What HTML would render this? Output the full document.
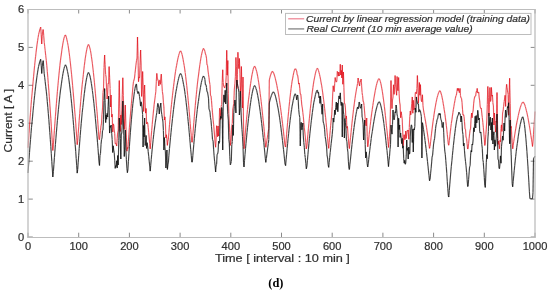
<!DOCTYPE html>
<html><head><meta charset="utf-8"><title>Current plot</title>
<style>html,body{margin:0;padding:0;background:#fff;width:550px;height:293px;overflow:hidden}svg{display:block}</style>
</head><body>
<svg width="550" height="293" viewBox="0 0 550 293">
<rect x="0" y="0" width="550" height="293" fill="#fff"/>
<path d="M28.0,237V232.7M28.0,9.5V13.5M78.7,237V232.7M78.7,9.5V13.5M129.4,237V232.7M129.4,9.5V13.5M180.1,237V232.7M180.1,9.5V13.5M230.8,237V232.7M230.8,9.5V13.5M281.5,237V232.7M281.5,9.5V13.5M332.2,237V232.7M332.2,9.5V13.5M382.9,237V232.7M382.9,9.5V13.5M433.6,237V232.7M433.6,9.5V13.5M484.3,237V232.7M484.3,9.5V13.5M535.0,237V232.7M535.0,9.5V13.5M28,237.0H32.8M535,237.0H530.7M28,199.1H32.8M535,199.1H530.7M28,161.2H32.8M535,161.2H530.7M28,123.2H32.8M535,123.2H530.7M28,85.3H32.8M535,85.3H530.7M28,47.4H32.8M535,47.4H530.7M28,9.5H32.8M535,9.5H530.7" stroke="#8a8a8a" stroke-width="1" fill="none"/>
<defs><filter id="bl" filterUnits="userSpaceOnUse" x="0" y="0" width="550" height="293"><feGaussianBlur stdDeviation="0"/></filter></defs>
<g filter="url(#bl)">
<g fill="none" stroke="#e00a14" stroke-width="1.15" stroke-opacity="0.68" stroke-linecap="butt">
<path d="M28.0 147.8L28.5 140.3"/>
<path d="M28.5 140.3L29.0 133.1"/>
<path d="M29.0 133.1L29.5 126.0"/>
<path d="M29.5 126.0L30.0 119.0"/>
<path d="M30.0 119.0L30.5 112.3"/>
<path d="M30.5 112.3L31.0 105.8"/>
<path d="M31.0 105.8L31.5 99.5"/>
<path d="M31.5 99.5L32.1 93.3"/>
<path d="M32.1 93.3L32.6 87.4"/>
<path d="M32.6 87.4L33.1 81.7"/>
<path d="M33.1 81.7L33.6 76.2"/>
<path d="M33.6 76.2L34.1 70.9"/>
<path d="M34.1 70.9L34.6 65.8"/>
<path d="M34.6 65.8L35.1 61.0"/>
<path d="M35.1 61.0L35.6 56.4"/>
<path d="M35.6 56.4L36.1 52.1"/>
<path d="M36.1 52.1L36.6 48.0"/>
<path d="M36.6 48.0L37.1 44.2"/>
<path d="M37.1 44.2L37.6 40.7"/>
<path d="M37.6 40.7L38.1 37.5"/>
<path d="M38.1 37.5L38.6 34.7"/>
<path d="M38.6 34.7L39.2 32.1"/>
<path d="M39.2 32.1L39.7 30.0"/>
<path d="M39.7 30.0L40.2 28.3"/>
<path d="M40.2 28.3L40.7 27.1"/>
<path d="M40.7 27.1L41.2 34.4"/>
<path d="M41.2 34.4L41.7 44.0"/>
<path d="M41.7 44.0L42.2 36.1"/>
<path d="M42.2 36.1L42.7 31.3"/>
<path d="M42.7 31.3L43.2 29.5"/>
<path d="M43.2 29.5L43.7 35.2"/>
<path d="M43.7 35.2L44.2 42.2"/>
<path d="M44.2 42.2L44.7 46.3"/>
<path d="M44.7 46.3L45.2 50.7"/>
<path d="M45.2 50.7L45.7 55.4"/>
<path d="M45.7 55.4L46.3 60.5"/>
<path d="M46.3 60.5L46.8 65.8"/>
<path d="M46.8 65.8L47.3 71.5"/>
<path d="M47.3 71.5L47.8 77.4"/>
<path d="M47.8 77.4L48.3 83.6"/>
<path d="M48.3 83.6L48.8 90.1"/>
<path d="M48.8 90.1L49.3 96.8"/>
<path d="M49.3 96.8L49.8 103.8"/>
<path d="M49.8 103.8L50.3 111.0"/>
<path d="M50.3 111.0L50.8 118.4"/>
<path d="M50.8 118.4L51.3 126.1"/>
<path d="M51.3 126.1L51.8 134.0"/>
<path d="M51.8 134.0L52.3 142.2"/>
<path d="M52.3 142.2L52.8 150.5"/>
<path d="M52.8 150.5L53.4 144.8"/>
<path d="M53.4 144.8L53.9 137.4"/>
<path d="M53.9 137.4L54.4 130.3"/>
<path d="M54.4 130.3L54.9 123.3"/>
<path d="M54.9 123.3L55.4 116.5"/>
<path d="M55.4 116.5L55.9 109.9"/>
<path d="M55.9 109.9L56.4 103.6"/>
<path d="M56.4 103.6L56.9 97.4"/>
<path d="M56.9 97.4L57.4 91.5"/>
<path d="M57.4 91.5L57.9 85.8"/>
<path d="M57.9 85.8L58.4 80.3"/>
<path d="M58.4 80.3L58.9 75.1"/>
<path d="M58.9 75.1L59.4 70.1"/>
<path d="M59.4 70.1L59.9 65.4"/>
<path d="M59.9 65.4L60.4 60.9"/>
<path d="M60.4 60.9L61.0 56.7"/>
<path d="M61.0 56.7L61.5 52.8"/>
<path d="M61.5 52.8L62.0 49.1"/>
<path d="M62.0 49.1L62.5 45.8"/>
<path d="M62.5 45.8L63.0 42.9"/>
<path d="M63.0 42.9L63.5 40.3"/>
<path d="M63.5 40.3L64.0 38.1"/>
<path d="M64.0 38.1L64.5 36.3"/>
<path d="M64.5 36.3L65.0 35.2"/>
<path d="M65.0 35.2L65.5 35.1"/>
<path d="M65.5 35.1L66.0 36.2"/>
<path d="M66.0 36.2L66.5 37.8"/>
<path d="M66.5 37.8L67.0 40.0"/>
<path d="M67.0 40.0L67.5 42.5"/>
<path d="M67.5 42.5L68.1 45.5"/>
<path d="M68.1 45.5L68.6 48.8"/>
<path d="M68.6 48.8L69.1 52.4"/>
<path d="M69.1 52.4L69.6 56.3"/>
<path d="M69.6 56.3L70.1 60.5"/>
<path d="M70.1 60.5L70.6 65.0"/>
<path d="M70.6 65.0L71.1 69.7"/>
<path d="M71.1 69.7L71.6 74.7"/>
<path d="M71.6 74.7L72.1 80.0"/>
<path d="M72.1 80.0L72.6 85.5"/>
<path d="M72.6 85.5L73.1 91.2"/>
<path d="M73.1 91.2L73.6 97.1"/>
<path d="M73.6 97.1L74.1 103.3"/>
<path d="M74.1 103.3L74.6 109.7"/>
<path d="M74.6 109.7L75.2 116.3"/>
<path d="M75.2 116.3L75.7 123.1"/>
<path d="M75.7 123.1L76.2 130.1"/>
<path d="M76.2 130.1L76.7 137.3"/>
<path d="M76.7 137.3L77.2 144.7"/>
<path d="M77.2 144.7L77.7 140.9"/>
<path d="M77.7 140.9L78.2 133.8"/>
<path d="M78.2 133.8L78.7 126.9"/>
<path d="M78.7 126.9L79.2 120.1"/>
<path d="M79.2 120.1L79.7 113.6"/>
<path d="M79.7 113.6L80.2 107.4"/>
<path d="M80.2 107.4L80.7 101.3"/>
<path d="M80.7 101.3L81.2 95.5"/>
<path d="M81.2 95.5L81.7 89.9"/>
<path d="M81.7 89.9L82.2 84.6"/>
<path d="M82.2 84.6L82.8 79.5"/>
<path d="M82.8 79.5L83.3 74.7"/>
<path d="M83.3 74.7L83.8 70.1"/>
<path d="M83.8 70.1L84.3 65.8"/>
<path d="M84.3 65.8L84.8 61.9"/>
<path d="M84.8 61.9L85.3 58.2"/>
<path d="M85.3 58.2L85.8 54.9"/>
<path d="M85.8 54.9L86.3 51.9"/>
<path d="M86.3 51.9L86.8 49.3"/>
<path d="M86.8 49.3L87.3 47.2"/>
<path d="M87.3 47.2L87.8 45.5"/>
<path d="M87.8 45.5L88.3 44.5"/>
<path d="M88.3 44.5L88.8 44.8"/>
<path d="M88.8 44.8L89.3 46.1"/>
<path d="M89.3 46.1L89.9 48.0"/>
<path d="M89.9 48.0L90.4 50.4"/>
<path d="M90.4 50.4L90.9 53.2"/>
<path d="M90.9 53.2L91.4 56.4"/>
<path d="M91.4 56.4L91.9 59.9"/>
<path d="M91.9 59.9L92.4 63.8"/>
<path d="M92.4 63.8L92.9 68.0"/>
<path d="M92.9 68.0L93.4 72.5"/>
<path d="M93.4 72.5L93.9 77.3"/>
<path d="M93.9 77.3L94.4 82.3"/>
<path d="M94.4 82.3L94.9 87.7"/>
<path d="M94.9 87.7L95.4 93.3"/>
<path d="M95.4 93.3L95.9 99.1"/>
<path d="M95.9 99.1L96.4 105.2"/>
<path d="M96.4 105.2L97.0 111.5"/>
<path d="M97.0 111.5L97.5 118.1"/>
<path d="M97.5 118.1L98.0 124.9"/>
<path d="M98.0 124.9L98.5 131.9"/>
<path d="M98.5 131.9L99.0 139.1"/>
<path d="M99.0 139.1L99.5 139.7"/>
<path d="M99.5 139.7L100.0 134.8"/>
<path d="M100.0 134.8L100.5 130.4"/>
<path d="M100.5 130.4L101.0 125.9"/>
<path d="M101.0 125.9L101.5 123.7"/>
<path d="M101.5 123.7L102.0 114.3"/>
<path d="M102.0 114.3L102.5 108.9"/>
<path d="M102.5 108.9L103.0 92.2"/>
<path d="M103.0 92.2L103.5 89.2"/>
<path d="M103.5 89.2L104.0 67.9"/>
<path d="M104.0 67.9L104.6 55.0"/>
<path d="M104.6 55.0L105.1 64.4"/>
<path d="M105.1 64.4L105.6 74.3"/>
<path d="M105.6 74.3L106.1 77.0"/>
<path d="M106.1 77.0L106.6 88.9"/>
<path d="M106.6 88.9L107.1 99.0"/>
<path d="M107.1 99.0L107.6 94.7"/>
<path d="M107.6 94.7L108.1 83.3"/>
<path d="M108.1 83.3L108.6 83.6"/>
<path d="M108.6 83.6L109.1 66.6"/>
<path d="M109.1 66.6L109.6 77.3"/>
<path d="M109.6 77.3L110.1 88.4"/>
<path d="M110.1 88.4L110.6 107.1"/>
<path d="M110.6 107.1L111.1 95.0"/>
<path d="M111.1 95.0L111.7 117.1"/>
<path d="M111.7 117.1L112.2 114.2"/>
<path d="M112.2 114.2L112.7 131.9"/>
<path d="M112.7 131.9L113.2 123.9"/>
<path d="M113.2 123.9L113.7 124.8"/>
<path d="M113.7 124.8L114.2 130.0"/>
<path d="M114.2 130.0L114.7 133.6"/>
<path d="M114.7 133.6L115.2 143.6"/>
<path d="M115.2 143.6L115.7 143.3"/>
<path d="M115.7 143.3L116.2 144.1"/>
<path d="M116.2 144.1L116.7 146.0"/>
<path d="M116.7 146.0L117.2 138.5"/>
<path d="M117.2 138.5L117.7 132.2"/>
<path d="M117.7 132.2L118.2 131.3"/>
<path d="M118.2 131.3L118.8 100.9"/>
<path d="M118.8 100.9L119.3 80.5"/>
<path d="M119.3 80.5L119.8 108.7"/>
<path d="M119.8 108.7L120.3 131.5"/>
<path d="M120.3 131.5L120.8 115.0"/>
<path d="M120.8 115.0L121.3 124.5"/>
<path d="M121.3 124.5L121.8 110.0"/>
<path d="M121.8 110.0L122.3 94.5"/>
<path d="M122.3 94.5L122.8 77.7"/>
<path d="M122.8 77.7L123.3 95.5"/>
<path d="M123.3 95.5L123.8 115.0"/>
<path d="M123.8 115.0L124.3 129.4"/>
<path d="M124.3 129.4L124.8 118.8"/>
<path d="M124.8 118.8L125.3 105.0"/>
<path d="M125.3 105.0L125.9 126.3"/>
<path d="M125.9 126.3L126.4 137.6"/>
<path d="M126.4 137.6L126.9 151.2"/>
<path d="M126.9 151.2L127.4 147.6"/>
<path d="M127.4 147.6L127.9 148.4"/>
<path d="M127.9 148.4L128.4 141.2"/>
<path d="M128.4 141.2L128.9 134.3"/>
<path d="M128.9 134.3L129.4 127.6"/>
<path d="M129.4 127.6L129.9 121.2"/>
<path d="M129.9 121.2L130.4 115.0"/>
<path d="M130.4 115.0L130.9 109.0"/>
<path d="M130.9 109.0L131.4 103.4"/>
<path d="M131.4 103.4L131.9 98.0"/>
<path d="M131.9 98.0L132.4 92.9"/>
<path d="M132.4 92.9L132.9 86.8"/>
<path d="M132.9 86.8L133.5 81.5"/>
<path d="M133.5 81.5L134.0 80.0"/>
<path d="M134.0 80.0L134.5 78.1"/>
<path d="M134.5 78.1L135.0 73.4"/>
<path d="M135.0 73.4L135.5 69.1"/>
<path d="M135.5 69.1L136.0 64.3"/>
<path d="M136.0 64.3L136.5 60.5"/>
<path d="M136.5 60.5L137.0 58.4"/>
<path d="M137.0 58.4L137.5 37.0"/>
<path d="M137.5 37.0L138.0 55.8"/>
<path d="M138.0 55.8L138.5 81.7"/>
<path d="M138.5 81.7L139.0 77.3"/>
<path d="M139.0 77.3L139.5 77.8"/>
<path d="M139.5 77.8L140.0 65.2"/>
<path d="M140.0 65.2L140.6 50.0"/>
<path d="M140.6 50.0L141.1 63.9"/>
<path d="M141.1 63.9L141.6 96.4"/>
<path d="M141.6 96.4L142.1 89.7"/>
<path d="M142.1 89.7L142.6 71.4"/>
<path d="M142.6 71.4L143.1 84.1"/>
<path d="M143.1 84.1L143.6 111.6"/>
<path d="M143.6 111.6L144.1 94.4"/>
<path d="M144.1 94.4L144.6 85.0"/>
<path d="M144.6 85.0L145.1 103.0"/>
<path d="M145.1 103.0L145.6 113.1"/>
<path d="M145.6 113.1L146.1 108.4"/>
<path d="M146.1 108.4L146.6 123.9"/>
<path d="M146.6 123.9L147.1 122.3"/>
<path d="M147.1 122.3L147.7 122.8"/>
<path d="M147.7 122.8L148.2 127.7"/>
<path d="M148.2 127.7L148.7 132.8"/>
<path d="M148.7 132.8L149.2 138.0"/>
<path d="M149.2 138.0L149.7 143.4"/>
<path d="M149.7 143.4L150.2 148.9"/>
<path d="M150.2 148.9L150.7 142.7"/>
<path d="M150.7 142.7L151.2 136.4"/>
<path d="M151.2 136.4L151.7 130.4"/>
<path d="M151.7 130.4L152.2 124.7"/>
<path d="M152.2 124.7L152.7 119.1"/>
<path d="M152.7 119.1L153.2 113.9"/>
<path d="M153.2 113.9L153.7 108.9"/>
<path d="M153.7 108.9L154.2 104.1"/>
<path d="M154.2 104.1L154.8 99.7"/>
<path d="M154.8 99.7L155.3 95.5"/>
<path d="M155.3 95.5L155.8 91.6"/>
<path d="M155.8 91.6L156.3 81.7"/>
<path d="M156.3 81.7L156.8 73.4"/>
<path d="M156.8 73.4L157.3 78.3"/>
<path d="M157.3 78.3L157.8 79.8"/>
<path d="M157.8 79.8L158.3 80.8"/>
<path d="M158.3 80.8L158.8 86.0"/>
<path d="M158.8 86.0L159.3 80.4"/>
<path d="M159.3 80.4L159.8 80.4"/>
<path d="M159.8 80.4L160.3 84.4"/>
<path d="M160.3 84.4L160.8 78.1"/>
<path d="M160.8 78.1L161.3 74.1"/>
<path d="M161.3 74.1L161.8 83.2"/>
<path d="M161.8 83.2L162.4 91.8"/>
<path d="M162.4 91.8L162.9 95.1"/>
<path d="M162.9 95.1L163.4 102.2"/>
<path d="M163.4 102.2L163.9 107.1"/>
<path d="M163.9 107.1L164.4 120.0"/>
<path d="M164.4 120.0L164.9 116.8"/>
<path d="M164.9 116.8L165.4 122.6"/>
<path d="M165.4 122.6L165.9 138.0"/>
<path d="M165.9 138.0L166.4 134.7"/>
<path d="M166.4 134.7L166.9 139.1"/>
<path d="M166.9 139.1L167.4 145.4"/>
<path d="M167.4 145.4L167.9 140.8"/>
<path d="M167.9 140.8L168.4 139.0"/>
<path d="M168.4 139.0L168.9 132.6"/>
<path d="M168.9 132.6L169.5 124.7"/>
<path d="M169.5 124.7L170.0 119.4"/>
<path d="M170.0 119.4L170.5 114.3"/>
<path d="M170.5 114.3L171.0 109.3"/>
<path d="M171.0 109.3L171.5 104.4"/>
<path d="M171.5 104.4L172.0 99.7"/>
<path d="M172.0 99.7L172.5 95.2"/>
<path d="M172.5 95.2L173.0 90.8"/>
<path d="M173.0 90.8L173.5 86.6"/>
<path d="M173.5 86.6L174.0 82.6"/>
<path d="M174.0 82.6L174.5 78.8"/>
<path d="M174.5 78.8L175.0 75.2"/>
<path d="M175.0 75.2L175.5 71.7"/>
<path d="M175.5 71.7L176.0 68.5"/>
<path d="M176.0 68.5L176.6 65.4"/>
<path d="M176.6 65.4L177.1 62.6"/>
<path d="M177.1 62.6L177.6 60.0"/>
<path d="M177.6 60.0L178.1 57.7"/>
<path d="M178.1 57.7L178.6 55.6"/>
<path d="M178.6 55.6L179.1 53.8"/>
<path d="M179.1 53.8L179.6 52.4"/>
<path d="M179.6 52.4L180.1 51.3"/>
<path d="M180.1 51.3L180.6 50.8"/>
<path d="M180.6 50.8L181.1 51.5"/>
<path d="M181.1 51.5L181.6 52.8"/>
<path d="M181.6 52.8L182.1 54.6"/>
<path d="M182.1 54.6L182.6 56.8"/>
<path d="M182.6 56.8L183.1 59.4"/>
<path d="M183.1 59.4L183.6 62.3"/>
<path d="M183.6 62.3L184.2 65.5"/>
<path d="M184.2 65.5L184.7 69.0"/>
<path d="M184.7 69.0L185.2 72.7"/>
<path d="M185.2 72.7L185.7 76.8"/>
<path d="M185.7 76.8L186.2 81.0"/>
<path d="M186.2 81.0L186.7 85.5"/>
<path d="M186.7 85.5L187.2 90.3"/>
<path d="M187.2 90.3L187.7 95.2"/>
<path d="M187.7 95.2L188.2 100.4"/>
<path d="M188.2 100.4L188.7 105.8"/>
<path d="M188.7 105.8L189.2 111.4"/>
<path d="M189.2 111.4L189.7 117.2"/>
<path d="M189.7 117.2L190.2 123.2"/>
<path d="M190.2 123.2L190.7 129.4"/>
<path d="M190.7 129.4L191.3 135.8"/>
<path d="M191.3 135.8L191.8 142.3"/>
<path d="M191.8 142.3L192.3 142.0"/>
<path d="M192.3 142.0L192.8 135.4"/>
<path d="M192.8 135.4L193.3 129.0"/>
<path d="M193.3 129.0L193.8 122.8"/>
<path d="M193.8 122.8L194.3 116.8"/>
<path d="M194.3 116.8L194.8 111.0"/>
<path d="M194.8 111.0L195.3 105.4"/>
<path d="M195.3 105.4L195.8 99.9"/>
<path d="M195.8 99.9L196.3 94.7"/>
<path d="M196.3 94.7L196.8 89.7"/>
<path d="M196.8 89.7L197.3 84.9"/>
<path d="M197.3 84.9L197.8 80.3"/>
<path d="M197.8 80.3L198.4 76.0"/>
<path d="M198.4 76.0L198.9 71.9"/>
<path d="M198.9 71.9L199.4 68.1"/>
<path d="M199.4 68.1L199.9 64.5"/>
<path d="M199.9 64.5L200.4 61.2"/>
<path d="M200.4 61.2L200.9 58.1"/>
<path d="M200.9 58.1L201.4 55.4"/>
<path d="M201.4 55.4L201.9 53.1"/>
<path d="M201.9 53.1L202.4 51.1"/>
<path d="M202.4 51.1L202.9 49.5"/>
<path d="M202.9 49.5L203.4 48.4"/>
<path d="M203.4 48.4L203.9 49.2"/>
<path d="M203.9 49.2L204.4 49.6"/>
<path d="M204.4 49.6L204.9 51.3"/>
<path d="M204.9 51.3L205.4 53.8"/>
<path d="M205.4 53.8L206.0 55.4"/>
<path d="M206.0 55.4L206.5 58.1"/>
<path d="M206.5 58.1L207.0 65.0"/>
<path d="M207.0 65.0L207.5 65.4"/>
<path d="M207.5 65.4L208.0 70.7"/>
<path d="M208.0 70.7L208.5 74.4"/>
<path d="M208.5 74.4L209.0 77.6"/>
<path d="M209.0 77.6L209.5 82.2"/>
<path d="M209.5 82.2L210.0 84.7"/>
<path d="M210.0 84.7L210.5 95.5"/>
<path d="M210.5 95.5L211.0 95.7"/>
<path d="M211.0 95.7L211.5 100.6"/>
<path d="M211.5 100.6L212.0 107.4"/>
<path d="M212.0 107.4L212.5 112.9"/>
<path d="M212.5 112.9L213.1 119.7"/>
<path d="M213.1 119.7L213.6 124.2"/>
<path d="M213.6 124.2L214.1 129.9"/>
<path d="M214.1 129.9L214.6 136.0"/>
<path d="M214.6 136.0L215.1 143.2"/>
<path d="M215.1 143.2L215.6 147.2"/>
<path d="M215.6 147.2L216.1 139.3"/>
<path d="M216.1 139.3L216.6 125.7"/>
<path d="M216.6 125.7L217.1 128.7"/>
<path d="M217.1 128.7L217.6 136.7"/>
<path d="M217.6 136.7L218.1 126.0"/>
<path d="M218.1 126.0L218.6 136.0"/>
<path d="M218.6 136.0L219.1 128.7"/>
<path d="M219.1 128.7L219.6 108.2"/>
<path d="M219.6 108.2L220.2 110.0"/>
<path d="M220.2 110.0L220.7 119.6"/>
<path d="M220.7 119.6L221.2 106.4"/>
<path d="M221.2 106.4L221.7 104.3"/>
<path d="M221.7 104.3L222.2 82.5"/>
<path d="M222.2 82.5L222.7 69.7"/>
<path d="M222.7 69.7L223.2 82.8"/>
<path d="M223.2 82.8L223.7 86.4"/>
<path d="M223.7 86.4L224.2 86.9"/>
<path d="M224.2 86.9L224.7 87.9"/>
<path d="M224.7 87.9L225.2 85.7"/>
<path d="M225.2 85.7L225.7 85.8"/>
<path d="M225.7 85.8L226.2 75.6"/>
<path d="M226.2 75.6L226.7 50.2"/>
<path d="M226.7 50.2L227.3 75.2"/>
<path d="M227.3 75.2L227.8 60.5"/>
<path d="M227.8 60.5L228.3 93.7"/>
<path d="M228.3 93.7L228.8 113.6"/>
<path d="M228.8 113.6L229.3 123.1"/>
<path d="M229.3 123.1L229.8 132.5"/>
<path d="M229.8 132.5L230.3 145.4"/>
<path d="M230.3 145.4L230.8 142.5"/>
<path d="M230.8 142.5L231.3 134.8"/>
<path d="M231.3 134.8L231.8 125.4"/>
<path d="M231.8 125.4L232.3 123.6"/>
<path d="M232.3 123.6L232.8 109.1"/>
<path d="M232.8 109.1L233.3 106.4"/>
<path d="M233.3 106.4L233.8 103.3"/>
<path d="M233.8 103.3L234.3 90.0"/>
<path d="M234.3 90.0L234.9 83.5"/>
<path d="M234.9 83.5L235.4 76.5"/>
<path d="M235.4 76.5L235.9 57.4"/>
<path d="M235.9 57.4L236.4 66.8"/>
<path d="M236.4 66.8L236.9 88.5"/>
<path d="M236.9 88.5L237.4 74.2"/>
<path d="M237.4 74.2L237.9 52.3"/>
<path d="M237.9 52.3L238.4 63.5"/>
<path d="M238.4 63.5L238.9 68.6"/>
<path d="M238.9 68.6L239.4 58.4"/>
<path d="M239.4 58.4L239.9 73.6"/>
<path d="M239.9 73.6L240.4 91.7"/>
<path d="M240.4 91.7L240.9 85.8"/>
<path d="M240.9 85.8L241.4 66.6"/>
<path d="M241.4 66.6L242.0 96.0"/>
<path d="M242.0 96.0L242.5 108.0"/>
<path d="M242.5 108.0L243.0 76.9"/>
<path d="M243.0 76.9L243.5 122.9"/>
<path d="M243.5 122.9L244.0 148.7"/>
<path d="M244.0 148.7L244.5 143.0"/>
<path d="M244.5 143.0L245.0 136.9"/>
<path d="M245.0 136.9L245.5 131.0"/>
<path d="M245.5 131.0L246.0 125.3"/>
<path d="M246.0 125.3L246.5 119.8"/>
<path d="M246.5 119.8L247.0 114.5"/>
<path d="M247.0 114.5L247.5 109.5"/>
<path d="M247.5 109.5L248.0 104.6"/>
<path d="M248.0 104.6L248.5 99.9"/>
<path d="M248.5 99.9L249.1 95.5"/>
<path d="M249.1 95.5L249.6 91.3"/>
<path d="M249.6 91.3L250.1 87.4"/>
<path d="M250.1 87.4L250.6 83.7"/>
<path d="M250.6 83.7L251.1 80.3"/>
<path d="M251.1 80.3L251.6 77.2"/>
<path d="M251.6 77.2L252.1 74.3"/>
<path d="M252.1 74.3L252.6 71.8"/>
<path d="M252.6 71.8L253.1 69.7"/>
<path d="M253.1 69.7L253.6 68.0"/>
<path d="M253.6 68.0L254.1 66.7"/>
<path d="M254.1 66.7L254.6 66.1"/>
<path d="M254.6 66.1L255.1 66.7"/>
<path d="M255.1 66.7L255.6 68.0"/>
<path d="M255.6 68.0L256.1 69.6"/>
<path d="M256.1 69.6L256.7 71.6"/>
<path d="M256.7 71.6L257.2 73.9"/>
<path d="M257.2 73.9L257.7 76.6"/>
<path d="M257.7 76.6L258.2 79.5"/>
<path d="M258.2 79.5L258.7 82.6"/>
<path d="M258.7 82.6L259.2 86.0"/>
<path d="M259.2 86.0L259.7 89.6"/>
<path d="M259.7 89.6L260.2 93.5"/>
<path d="M260.2 93.5L260.7 97.6"/>
<path d="M260.7 97.6L261.2 101.8"/>
<path d="M261.2 101.8L261.7 106.3"/>
<path d="M261.7 106.3L262.2 111.0"/>
<path d="M262.2 111.0L262.7 115.8"/>
<path d="M262.7 115.8L263.2 120.9"/>
<path d="M263.2 120.9L263.8 126.1"/>
<path d="M263.8 126.1L264.3 131.5"/>
<path d="M264.3 131.5L264.8 137.1"/>
<path d="M264.8 137.1L265.3 142.9"/>
<path d="M265.3 142.9L265.8 147.3"/>
<path d="M265.8 147.3L266.3 144.1"/>
<path d="M266.3 144.1L266.8 140.9"/>
<path d="M266.8 140.9L267.3 137.8"/>
<path d="M267.3 137.8L267.8 134.6"/>
<path d="M267.8 134.6L268.3 131.4"/>
<path d="M268.3 131.4L268.8 128.3"/>
<path d="M268.8 128.3L269.3 80.0"/>
<path d="M269.3 80.0L269.8 77.9"/>
<path d="M269.8 77.9L270.3 75.9"/>
<path d="M270.3 75.9L270.9 74.2"/>
<path d="M270.9 74.2L271.4 72.8"/>
<path d="M271.4 72.8L271.9 71.8"/>
<path d="M271.9 71.8L272.4 71.3"/>
<path d="M272.4 71.3L272.9 71.7"/>
<path d="M272.9 71.7L273.4 72.6"/>
<path d="M273.4 72.6L273.9 73.7"/>
<path d="M273.9 73.7L274.4 75.2"/>
<path d="M274.4 75.2L274.9 76.9"/>
<path d="M274.9 76.9L275.4 78.8"/>
<path d="M275.4 78.8L275.9 80.9"/>
<path d="M275.9 80.9L276.4 83.2"/>
<path d="M276.4 83.2L276.9 85.7"/>
<path d="M276.9 85.7L277.4 88.4"/>
<path d="M277.4 88.4L278.0 91.2"/>
<path d="M278.0 91.2L278.5 94.2"/>
<path d="M278.5 94.2L279.0 97.3"/>
<path d="M279.0 97.3L279.5 100.6"/>
<path d="M279.5 100.6L280.0 104.1"/>
<path d="M280.0 104.1L280.5 107.6"/>
<path d="M280.5 107.6L281.0 111.4"/>
<path d="M281.0 111.4L281.5 115.2"/>
<path d="M281.5 115.2L282.0 119.2"/>
<path d="M282.0 119.2L282.5 123.3"/>
<path d="M282.5 123.3L283.0 127.5"/>
<path d="M283.0 127.5L283.5 131.9"/>
<path d="M283.5 131.9L284.0 136.4"/>
<path d="M284.0 136.4L284.5 141.0"/>
<path d="M284.5 141.0L285.0 145.7"/>
<path d="M285.0 145.7L285.6 147.0"/>
<path d="M285.6 147.0L286.1 140.5"/>
<path d="M286.1 140.5L286.6 134.3"/>
<path d="M286.6 134.3L287.1 128.3"/>
<path d="M287.1 128.3L287.6 122.5"/>
<path d="M287.6 122.5L288.1 116.9"/>
<path d="M288.1 116.9L288.6 111.5"/>
<path d="M288.6 111.5L289.1 106.4"/>
<path d="M289.1 106.4L289.6 101.6"/>
<path d="M289.6 101.6L290.1 96.9"/>
<path d="M290.1 96.9L290.6 92.6"/>
<path d="M290.6 92.6L291.1 88.5"/>
<path d="M291.1 88.5L291.6 84.7"/>
<path d="M291.6 84.7L292.1 81.2"/>
<path d="M292.1 81.2L292.7 78.1"/>
<path d="M292.7 78.1L293.2 75.3"/>
<path d="M293.2 75.3L293.7 72.8"/>
<path d="M293.7 72.8L294.2 70.8"/>
<path d="M294.2 70.8L294.7 69.3"/>
<path d="M294.7 69.3L295.2 68.9"/>
<path d="M295.2 68.9L295.7 68.8"/>
<path d="M295.7 68.8L296.2 70.1"/>
<path d="M296.2 70.1L296.7 71.0"/>
<path d="M296.7 71.0L297.2 75.2"/>
<path d="M297.2 75.2L297.7 75.4"/>
<path d="M297.7 75.4L298.2 79.1"/>
<path d="M298.2 79.1L298.7 84.1"/>
<path d="M298.7 84.1L299.2 83.1"/>
<path d="M299.2 83.1L299.8 88.6"/>
<path d="M299.8 88.6L300.3 94.2"/>
<path d="M300.3 94.2L300.8 94.1"/>
<path d="M300.8 94.1L301.3 99.4"/>
<path d="M301.3 99.4L301.8 105.2"/>
<path d="M301.8 105.2L302.3 108.0"/>
<path d="M302.3 108.0L302.8 112.2"/>
<path d="M302.8 112.2L303.3 116.2"/>
<path d="M303.3 116.2L303.8 122.3"/>
<path d="M303.8 122.3L304.3 127.7"/>
<path d="M304.3 127.7L304.8 132.0"/>
<path d="M304.8 132.0L305.3 137.0"/>
<path d="M305.3 137.0L305.8 142.7"/>
<path d="M305.8 142.7L306.3 148.9"/>
<path d="M306.3 148.9L306.9 146.1"/>
<path d="M306.9 146.1L307.4 140.1"/>
<path d="M307.4 140.1L307.9 134.4"/>
<path d="M307.9 134.4L308.4 128.8"/>
<path d="M308.4 128.8L308.9 123.4"/>
<path d="M308.9 123.4L309.4 118.2"/>
<path d="M309.4 118.2L309.9 113.2"/>
<path d="M309.9 113.2L310.4 108.3"/>
<path d="M310.4 108.3L310.9 103.7"/>
<path d="M310.9 103.7L311.4 99.4"/>
<path d="M311.4 99.4L311.9 95.2"/>
<path d="M311.9 95.2L312.4 91.3"/>
<path d="M312.4 91.3L312.9 87.6"/>
<path d="M312.9 87.6L313.4 84.1"/>
<path d="M313.4 84.1L313.9 80.9"/>
<path d="M313.9 80.9L314.5 78.0"/>
<path d="M314.5 78.0L315.0 75.4"/>
<path d="M315.0 75.4L315.5 73.1"/>
<path d="M315.5 73.1L316.0 71.2"/>
<path d="M316.0 71.2L316.5 69.6"/>
<path d="M316.5 69.6L317.0 68.6"/>
<path d="M317.0 68.6L317.5 68.4"/>
<path d="M317.5 68.4L318.0 69.3"/>
<path d="M318.0 69.3L318.5 70.6"/>
<path d="M318.5 70.6L319.0 72.3"/>
<path d="M319.0 72.3L319.5 74.3"/>
<path d="M319.5 74.3L320.0 76.6"/>
<path d="M320.0 76.6L320.5 79.2"/>
<path d="M320.5 79.2L321.0 82.1"/>
<path d="M321.0 82.1L321.6 85.2"/>
<path d="M321.6 85.2L322.1 88.5"/>
<path d="M322.1 88.5L322.6 92.1"/>
<path d="M322.6 92.1L323.1 95.9"/>
<path d="M323.1 95.9L323.6 99.8"/>
<path d="M323.6 99.8L324.1 104.0"/>
<path d="M324.1 104.0L324.6 108.4"/>
<path d="M324.6 108.4L325.1 112.9"/>
<path d="M325.1 112.9L325.6 117.6"/>
<path d="M325.6 117.6L326.1 122.5"/>
<path d="M326.1 122.5L326.6 127.6"/>
<path d="M326.6 127.6L327.1 132.9"/>
<path d="M327.1 132.9L327.6 138.3"/>
<path d="M327.6 138.3L328.1 143.9"/>
<path d="M328.1 143.9L328.7 148.4"/>
<path d="M328.7 148.4L329.2 142.3"/>
<path d="M329.2 142.3L329.7 136.5"/>
<path d="M329.7 136.5L330.2 130.8"/>
<path d="M330.2 130.8L330.7 125.3"/>
<path d="M330.7 125.3L331.2 120.0"/>
<path d="M331.2 120.0L331.7 114.9"/>
<path d="M331.7 114.9L332.2 106.3"/>
<path d="M332.2 106.3L332.7 94.0"/>
<path d="M332.7 94.0L333.2 85.7"/>
<path d="M333.2 85.7L333.7 90.3"/>
<path d="M333.7 90.3L334.2 91.6"/>
<path d="M334.2 91.6L334.7 83.3"/>
<path d="M334.7 83.3L335.2 77.5"/>
<path d="M335.2 77.5L335.7 80.9"/>
<path d="M335.7 80.9L336.3 82.0"/>
<path d="M336.3 82.0L336.8 81.5"/>
<path d="M336.8 81.5L337.3 71.4"/>
<path d="M337.3 71.4L337.8 72.6"/>
<path d="M337.8 72.6L338.3 76.1"/>
<path d="M338.3 76.1L338.8 72.0"/>
<path d="M338.8 72.0L339.3 75.9"/>
<path d="M339.3 75.9L339.8 74.6"/>
<path d="M339.8 74.6L340.3 64.2"/>
<path d="M340.3 64.2L340.8 75.0"/>
<path d="M340.8 75.0L341.3 70.4"/>
<path d="M341.3 70.4L341.8 77.9"/>
<path d="M341.8 77.9L342.3 65.0"/>
<path d="M342.3 65.0L342.8 84.3"/>
<path d="M342.8 84.3L343.4 72.0"/>
<path d="M343.4 72.0L343.9 87.4"/>
<path d="M343.9 87.4L344.4 103.4"/>
<path d="M344.4 103.4L344.9 103.6"/>
<path d="M344.9 103.6L345.4 108.0"/>
<path d="M345.4 108.0L345.9 118.8"/>
<path d="M345.9 118.8L346.4 115.9"/>
<path d="M346.4 115.9L346.9 128.2"/>
<path d="M346.9 128.2L347.4 126.4"/>
<path d="M347.4 126.4L347.9 133.3"/>
<path d="M347.9 133.3L348.4 138.8"/>
<path d="M348.4 138.8L348.9 145.4"/>
<path d="M348.9 145.4L349.4 148.6"/>
<path d="M349.4 148.6L349.9 143.1"/>
<path d="M349.9 143.1L350.5 137.8"/>
<path d="M350.5 137.8L351.0 132.7"/>
<path d="M351.0 132.7L351.5 127.8"/>
<path d="M351.5 127.8L352.0 123.0"/>
<path d="M352.0 123.0L352.5 118.4"/>
<path d="M352.5 118.4L353.0 114.0"/>
<path d="M353.0 114.0L353.5 109.8"/>
<path d="M353.5 109.8L354.0 105.8"/>
<path d="M354.0 105.8L354.5 102.1"/>
<path d="M354.5 102.1L355.0 98.5"/>
<path d="M355.0 98.5L355.5 95.1"/>
<path d="M355.5 95.1L356.0 92.0"/>
<path d="M356.0 92.0L356.5 89.2"/>
<path d="M356.5 89.2L357.0 86.6"/>
<path d="M357.0 86.6L357.6 83.3"/>
<path d="M357.6 83.3L358.1 78.0"/>
<path d="M358.1 78.0L358.6 80.7"/>
<path d="M358.6 80.7L359.1 83.8"/>
<path d="M359.1 83.8L359.6 86.0"/>
<path d="M359.6 86.0L360.1 81.3"/>
<path d="M360.1 81.3L360.6 81.3"/>
<path d="M360.6 81.3L361.1 79.0"/>
<path d="M361.1 79.0L361.6 85.6"/>
<path d="M361.6 85.6L362.1 92.8"/>
<path d="M362.1 92.8L362.6 95.7"/>
<path d="M362.6 95.7L363.1 101.1"/>
<path d="M363.1 101.1L363.6 102.1"/>
<path d="M363.6 102.1L364.1 105.7"/>
<path d="M364.1 105.7L364.6 112.0"/>
<path d="M364.6 112.0L365.2 119.3"/>
<path d="M365.2 119.3L365.7 124.2"/>
<path d="M365.7 124.2L366.2 125.9"/>
<path d="M366.2 125.9L366.7 118.0"/>
<path d="M366.7 118.0L367.2 136.2"/>
<path d="M367.2 136.2L367.7 146.8"/>
<path d="M367.7 146.8L368.2 143.9"/>
<path d="M368.2 143.9L368.7 139.1"/>
<path d="M368.7 139.1L369.2 134.4"/>
<path d="M369.2 134.4L369.7 129.8"/>
<path d="M369.7 129.8L370.2 125.4"/>
<path d="M370.2 125.4L370.7 121.2"/>
<path d="M370.7 121.2L371.2 117.1"/>
<path d="M371.2 117.1L371.7 113.1"/>
<path d="M371.7 113.1L372.3 109.4"/>
<path d="M372.3 109.4L372.8 105.7"/>
<path d="M372.8 105.7L373.3 102.3"/>
<path d="M373.3 102.3L373.8 99.0"/>
<path d="M373.8 99.0L374.3 96.0"/>
<path d="M374.3 96.0L374.8 93.1"/>
<path d="M374.8 93.1L375.3 90.4"/>
<path d="M375.3 90.4L375.8 87.9"/>
<path d="M375.8 87.9L376.3 85.7"/>
<path d="M376.3 85.7L376.8 83.7"/>
<path d="M376.8 83.7L377.3 81.9"/>
<path d="M377.3 81.9L377.8 80.5"/>
<path d="M377.8 80.5L378.3 79.4"/>
<path d="M378.3 79.4L378.8 78.7"/>
<path d="M378.8 78.7L379.4 79.0"/>
<path d="M379.4 79.0L379.9 80.1"/>
<path d="M379.9 80.1L380.4 81.7"/>
<path d="M380.4 81.7L380.9 83.7"/>
<path d="M380.9 83.7L381.4 86.2"/>
<path d="M381.4 86.2L381.9 88.9"/>
<path d="M381.9 88.9L382.4 91.9"/>
<path d="M382.4 91.9L382.9 95.3"/>
<path d="M382.9 95.3L383.4 98.8"/>
<path d="M383.4 98.8L383.9 102.7"/>
<path d="M383.9 102.7L384.4 106.8"/>
<path d="M384.4 106.8L384.9 111.1"/>
<path d="M384.9 111.1L385.4 115.7"/>
<path d="M385.4 115.7L385.9 120.5"/>
<path d="M385.9 120.5L386.4 125.5"/>
<path d="M386.4 125.5L387.0 130.7"/>
<path d="M387.0 130.7L387.5 136.1"/>
<path d="M387.5 136.1L388.0 141.7"/>
<path d="M388.0 141.7L388.5 147.5"/>
<path d="M388.5 147.5L389.0 141.9"/>
<path d="M389.0 141.9L389.5 136.3"/>
<path d="M389.5 136.3L390.0 128.3"/>
<path d="M390.0 128.3L390.5 106.1"/>
<path d="M390.5 106.1L391.0 80.6"/>
<path d="M391.0 80.6L391.5 99.9"/>
<path d="M391.5 99.9L392.0 108.6"/>
<path d="M392.0 108.6L392.5 100.0"/>
<path d="M392.5 100.0L393.0 97.4"/>
<path d="M393.0 97.4L393.5 84.7"/>
<path d="M393.5 84.7L394.1 94.4"/>
<path d="M394.1 94.4L394.6 86.8"/>
<path d="M394.6 86.8L395.1 75.5"/>
<path d="M395.1 75.5L395.6 84.6"/>
<path d="M395.6 84.6L396.1 90.4"/>
<path d="M396.1 90.4L396.6 95.3"/>
<path d="M396.6 95.3L397.1 76.4"/>
<path d="M397.1 76.4L397.6 90.0"/>
<path d="M397.6 90.0L398.1 90.8"/>
<path d="M398.1 90.8L398.6 77.5"/>
<path d="M398.6 77.5L399.1 93.2"/>
<path d="M399.1 93.2L399.6 101.9"/>
<path d="M399.6 101.9L400.1 104.6"/>
<path d="M400.1 104.6L400.6 117.8"/>
<path d="M400.6 117.8L401.2 111.7"/>
<path d="M401.2 111.7L401.7 115.6"/>
<path d="M401.7 115.6L402.2 119.0"/>
<path d="M402.2 119.0L402.7 130.9"/>
<path d="M402.7 130.9L403.2 145.8"/>
<path d="M403.2 145.8L403.7 138.5"/>
<path d="M403.7 138.5L404.2 134.7"/>
<path d="M404.2 134.7L404.7 139.7"/>
<path d="M404.7 139.7L405.2 139.0"/>
<path d="M405.2 139.0L405.7 131.0"/>
<path d="M405.7 131.0L406.2 138.5"/>
<path d="M406.2 138.5L406.7 134.7"/>
<path d="M406.7 134.7L407.2 130.5"/>
<path d="M407.2 130.5L407.7 131.1"/>
<path d="M407.7 131.1L408.2 130.1"/>
<path d="M408.2 130.1L408.8 139.2"/>
<path d="M408.8 139.2L409.3 127.4"/>
<path d="M409.3 127.4L409.8 116.6"/>
<path d="M409.8 116.6L410.3 111.0"/>
<path d="M410.3 111.0L410.8 114.8"/>
<path d="M410.8 114.8L411.3 109.0"/>
<path d="M411.3 109.0L411.8 103.6"/>
<path d="M411.8 103.6L412.3 96.9"/>
<path d="M412.3 96.9L412.8 113.3"/>
<path d="M412.8 113.3L413.3 100.3"/>
<path d="M413.3 100.3L413.8 109.9"/>
<path d="M413.8 109.9L414.3 109.0"/>
<path d="M414.3 109.0L414.8 107.5"/>
<path d="M414.8 107.5L415.3 92.6"/>
<path d="M415.3 92.6L415.9 92.3"/>
<path d="M415.9 92.3L416.4 93.8"/>
<path d="M416.4 93.8L416.9 88.6"/>
<path d="M416.9 88.6L417.4 75.4"/>
<path d="M417.4 75.4L417.9 87.2"/>
<path d="M417.9 87.2L418.4 103.3"/>
<path d="M418.4 103.3L418.9 91.9"/>
<path d="M418.9 91.9L419.4 82.5"/>
<path d="M419.4 82.5L419.9 95.3"/>
<path d="M419.9 95.3L420.4 84.6"/>
<path d="M420.4 84.6L420.9 96.8"/>
<path d="M420.9 96.8L421.4 101.0"/>
<path d="M421.4 101.0L421.9 101.8"/>
<path d="M421.9 101.8L422.4 94.8"/>
<path d="M422.4 94.8L423.0 105.7"/>
<path d="M423.0 105.7L423.5 110.2"/>
<path d="M423.5 110.2L424.0 112.8"/>
<path d="M424.0 112.8L424.5 115.5"/>
<path d="M424.5 115.5L425.0 118.3"/>
<path d="M425.0 118.3L425.5 121.2"/>
<path d="M425.5 121.2L426.0 124.3"/>
<path d="M426.0 124.3L426.5 127.4"/>
<path d="M426.5 127.4L427.0 130.6"/>
<path d="M427.0 130.6L427.5 134.0"/>
<path d="M427.5 134.0L428.0 137.4"/>
<path d="M428.0 137.4L428.5 141.0"/>
<path d="M428.5 141.0L429.0 144.6"/>
<path d="M429.0 144.6L429.5 148.3"/>
<path d="M429.5 148.3L430.1 146.3"/>
<path d="M430.1 146.3L430.6 141.7"/>
<path d="M430.6 141.7L431.1 137.3"/>
<path d="M431.1 137.3L431.6 133.1"/>
<path d="M431.6 133.1L432.1 129.0"/>
<path d="M432.1 129.0L432.6 125.0"/>
<path d="M432.6 125.0L433.1 121.2"/>
<path d="M433.1 121.2L433.6 117.6"/>
<path d="M433.6 117.6L434.1 114.2"/>
<path d="M434.1 114.2L434.6 110.9"/>
<path d="M434.6 110.9L435.1 107.9"/>
<path d="M435.1 107.9L435.6 105.0"/>
<path d="M435.6 105.0L436.1 102.3"/>
<path d="M436.1 102.3L436.6 99.9"/>
<path d="M436.6 99.9L437.1 97.6"/>
<path d="M437.1 97.6L437.7 95.6"/>
<path d="M437.7 95.6L438.2 93.9"/>
<path d="M438.2 93.9L438.7 92.5"/>
<path d="M438.7 92.5L439.2 91.4"/>
<path d="M439.2 91.4L439.7 90.7"/>
<path d="M439.7 90.7L440.2 91.1"/>
<path d="M440.2 91.1L440.7 92.2"/>
<path d="M440.7 92.2L441.2 93.7"/>
<path d="M441.2 93.7L441.7 95.6"/>
<path d="M441.7 95.6L442.2 97.9"/>
<path d="M442.2 97.9L442.7 100.4"/>
<path d="M442.7 100.4L443.2 103.3"/>
<path d="M443.2 103.3L443.7 106.3"/>
<path d="M443.7 106.3L444.2 109.7"/>
<path d="M444.2 109.7L444.8 113.3"/>
<path d="M444.8 113.3L445.3 117.1"/>
<path d="M445.3 117.1L445.8 121.1"/>
<path d="M445.8 121.1L446.3 125.3"/>
<path d="M446.3 125.3L446.8 129.8"/>
<path d="M446.8 129.8L447.3 134.4"/>
<path d="M447.3 134.4L447.8 139.3"/>
<path d="M447.8 139.3L448.3 144.3"/>
<path d="M448.3 144.3L448.8 145.3"/>
<path d="M448.8 145.3L449.3 140.7"/>
<path d="M449.3 140.7L449.8 136.2"/>
<path d="M449.8 136.2L450.3 131.9"/>
<path d="M450.3 131.9L450.8 127.7"/>
<path d="M450.8 127.7L451.3 123.7"/>
<path d="M451.3 123.7L451.9 119.9"/>
<path d="M451.9 119.9L452.4 116.2"/>
<path d="M452.4 116.2L452.9 112.7"/>
<path d="M452.9 112.7L453.4 109.4"/>
<path d="M453.4 109.4L453.9 106.3"/>
<path d="M453.9 106.3L454.4 103.3"/>
<path d="M454.4 103.3L454.9 100.6"/>
<path d="M454.9 100.6L455.4 98.1"/>
<path d="M455.4 98.1L455.9 95.8"/>
<path d="M455.9 95.8L456.4 95.0"/>
<path d="M456.4 95.0L456.9 91.3"/>
<path d="M456.9 91.3L457.4 88.4"/>
<path d="M457.4 88.4L457.9 90.7"/>
<path d="M457.9 90.7L458.4 88.4"/>
<path d="M458.4 88.4L458.9 91.5"/>
<path d="M458.9 91.5L459.5 92.6"/>
<path d="M459.5 92.6L460.0 88.4"/>
<path d="M460.0 88.4L460.5 95.8"/>
<path d="M460.5 95.8L461.0 97.9"/>
<path d="M461.0 97.9L461.5 98.3"/>
<path d="M461.5 98.3L462.0 102.3"/>
<path d="M462.0 102.3L462.5 109.1"/>
<path d="M462.5 109.1L463.0 115.1"/>
<path d="M463.0 115.1L463.5 114.8"/>
<path d="M463.5 114.8L464.0 116.2"/>
<path d="M464.0 116.2L464.5 121.8"/>
<path d="M464.5 121.8L465.0 128.9"/>
<path d="M465.0 128.9L465.5 129.2"/>
<path d="M465.5 129.2L466.0 137.0"/>
<path d="M466.0 137.0L466.6 138.6"/>
<path d="M466.6 138.6L467.1 143.6"/>
<path d="M467.1 143.6L467.6 149.0"/>
<path d="M467.6 149.0L468.1 148.6"/>
<path d="M468.1 148.6L468.6 143.5"/>
<path d="M468.6 143.5L469.1 138.5"/>
<path d="M469.1 138.5L469.6 133.9"/>
<path d="M469.6 133.9L470.1 130.2"/>
<path d="M470.1 130.2L470.6 128.1"/>
<path d="M470.6 128.1L471.1 118.0"/>
<path d="M471.1 118.0L471.6 113.0"/>
<path d="M471.6 113.0L472.1 117.7"/>
<path d="M472.1 117.7L472.6 112.5"/>
<path d="M472.6 112.5L473.1 111.1"/>
<path d="M473.1 111.1L473.7 103.1"/>
<path d="M473.7 103.1L474.2 99.0"/>
<path d="M474.2 99.0L474.7 96.9"/>
<path d="M474.7 96.9L475.2 95.9"/>
<path d="M475.2 95.9L475.7 95.9"/>
<path d="M475.7 95.9L476.2 91.6"/>
<path d="M476.2 91.6L476.7 92.0"/>
<path d="M476.7 92.0L477.2 88.4"/>
<path d="M477.2 88.4L477.7 93.0"/>
<path d="M477.7 93.0L478.2 92.5"/>
<path d="M478.2 92.5L478.7 92.1"/>
<path d="M478.7 92.1L479.2 97.7"/>
<path d="M479.2 97.7L479.7 100.9"/>
<path d="M479.7 100.9L480.2 107.0"/>
<path d="M480.2 107.0L480.8 108.5"/>
<path d="M480.8 108.5L481.3 108.1"/>
<path d="M481.3 108.1L481.8 113.7"/>
<path d="M481.8 113.7L482.3 117.5"/>
<path d="M482.3 117.5L482.8 122.3"/>
<path d="M482.8 122.3L483.3 127.2"/>
<path d="M483.3 127.2L483.8 133.0"/>
<path d="M483.8 133.0L484.3 139.1"/>
<path d="M484.3 139.1L484.8 145.5"/>
<path d="M484.8 145.5L485.3 142.9"/>
<path d="M485.3 142.9L485.8 134.7"/>
<path d="M485.8 134.7L486.3 129.1"/>
<path d="M486.3 129.1L486.8 120.4"/>
<path d="M486.8 120.4L487.3 104.4"/>
<path d="M487.3 104.4L487.8 86.4"/>
<path d="M487.8 86.4L488.4 97.7"/>
<path d="M488.4 97.7L488.9 115.9"/>
<path d="M488.9 115.9L489.4 104.8"/>
<path d="M489.4 104.8L489.9 87.4"/>
<path d="M489.9 87.4L490.4 101.4"/>
<path d="M490.4 101.4L490.9 100.8"/>
<path d="M490.9 100.8L491.4 87.4"/>
<path d="M491.4 87.4L491.9 96.3"/>
<path d="M491.9 96.3L492.4 95.0"/>
<path d="M492.4 95.0L492.9 102.8"/>
<path d="M492.9 102.8L493.4 106.0"/>
<path d="M493.4 106.0L493.9 125.1"/>
<path d="M493.9 125.1L494.4 113.0"/>
<path d="M494.4 113.0L494.9 120.7"/>
<path d="M494.9 120.7L495.5 132.1"/>
<path d="M495.5 132.1L496.0 121.1"/>
<path d="M496.0 121.1L496.5 122.2"/>
<path d="M496.5 122.2L497.0 92.5"/>
<path d="M497.0 92.5L497.5 124.3"/>
<path d="M497.5 124.3L498.0 144.3"/>
<path d="M498.0 144.3L498.5 141.1"/>
<path d="M498.5 141.1L499.0 145.3"/>
<path d="M499.0 145.3L499.5 148.8"/>
<path d="M499.5 148.8L500.0 140.3"/>
<path d="M500.0 140.3L500.5 141.7"/>
<path d="M500.5 141.7L501.0 128.9"/>
<path d="M501.0 128.9L501.5 124.9"/>
<path d="M501.5 124.9L502.0 131.4"/>
<path d="M502.0 131.4L502.6 112.6"/>
<path d="M502.6 112.6L503.1 111.0"/>
<path d="M503.1 111.0L503.6 106.4"/>
<path d="M503.6 106.4L504.1 101.7"/>
<path d="M504.1 101.7L504.6 99.1"/>
<path d="M504.6 99.1L505.1 95.3"/>
<path d="M505.1 95.3L505.6 106.4"/>
<path d="M505.6 106.4L506.1 90.2"/>
<path d="M506.1 90.2L506.6 84.3"/>
<path d="M506.6 84.3L507.1 87.6"/>
<path d="M507.1 87.6L507.6 92.0"/>
<path d="M507.6 92.0L508.1 94.2"/>
<path d="M508.1 94.2L508.6 115.2"/>
<path d="M508.6 115.2L509.1 94.7"/>
<path d="M509.1 94.7L509.6 78.2"/>
<path d="M509.6 78.2L510.2 103.5"/>
<path d="M510.2 103.5L510.7 128.2"/>
<path d="M510.7 128.2L511.2 126.4"/>
<path d="M511.2 126.4L511.7 135.0"/>
<path d="M511.7 135.0L512.2 142.7"/>
<path d="M512.2 142.7L512.7 148.8"/>
<path d="M512.7 148.8L513.2 145.2"/>
<path d="M513.2 145.2L513.7 141.7"/>
<path d="M513.7 141.7L514.2 138.3"/>
<path d="M514.2 138.3L514.7 135.0"/>
<path d="M514.7 135.0L515.2 131.8"/>
<path d="M515.2 131.8L515.7 128.8"/>
<path d="M515.7 128.8L516.2 125.8"/>
<path d="M516.2 125.8L516.7 123.0"/>
<path d="M516.7 123.0L517.3 120.4"/>
<path d="M517.3 120.4L517.8 117.9"/>
<path d="M517.8 117.9L518.3 115.5"/>
<path d="M518.3 115.5L518.8 113.2"/>
<path d="M518.8 113.2L519.3 111.2"/>
<path d="M519.3 111.2L519.8 109.2"/>
<path d="M519.8 109.2L520.3 107.5"/>
<path d="M520.3 107.5L520.8 105.9"/>
<path d="M520.8 105.9L521.3 104.6"/>
<path d="M521.3 104.6L521.8 103.5"/>
<path d="M521.8 103.5L522.3 102.6"/>
<path d="M522.3 102.6L522.8 102.1"/>
<path d="M522.8 102.1L523.3 102.2"/>
<path d="M523.3 102.2L523.8 102.9"/>
<path d="M523.8 102.9L524.4 104.0"/>
<path d="M524.4 104.0L524.9 105.3"/>
<path d="M524.9 105.3L525.4 106.8"/>
<path d="M525.4 106.8L525.9 108.6"/>
<path d="M525.9 108.6L526.4 110.6"/>
<path d="M526.4 110.6L526.9 112.7"/>
<path d="M526.9 112.7L527.4 115.0"/>
<path d="M527.4 115.0L527.9 117.5"/>
<path d="M527.9 117.5L528.4 120.2"/>
<path d="M528.4 120.2L528.9 123.0"/>
<path d="M528.9 123.0L529.4 125.9"/>
<path d="M529.4 125.9L529.9 129.0"/>
<path d="M529.9 129.0L530.4 132.2"/>
<path d="M530.4 132.2L530.9 135.6"/>
<path d="M530.9 135.6L531.5 139.1"/>
<path d="M531.5 139.1L532.0 142.7"/>
<path d="M532.0 142.7L532.5 146.5"/>
<path d="M532.5 146.5L533.0 141.9"/>
<path d="M533.0 141.9L533.5 134.3"/>
<path d="M533.5 134.3L534.0 126.7"/>
<path d="M534.0 126.7L534.5 119.1"/>
<path d="M534.5 119.1L535.0 111.5"/>
</g>
<g fill="none" stroke="#101010" stroke-width="1.15" stroke-opacity="0.78" stroke-linecap="butt">
<path d="M28.0 173.0L28.5 166.0"/>
<path d="M28.5 166.0L29.0 159.1"/>
<path d="M29.0 159.1L29.5 152.4"/>
<path d="M29.5 152.4L30.0 145.9"/>
<path d="M30.0 145.9L30.5 139.6"/>
<path d="M30.5 139.6L31.0 133.4"/>
<path d="M31.0 133.4L31.5 127.4"/>
<path d="M31.5 127.4L32.1 121.7"/>
<path d="M32.1 121.7L32.6 116.1"/>
<path d="M32.6 116.1L33.1 110.7"/>
<path d="M33.1 110.7L33.6 105.5"/>
<path d="M33.6 105.5L34.1 100.5"/>
<path d="M34.1 100.5L34.6 95.8"/>
<path d="M34.6 95.8L35.1 91.2"/>
<path d="M35.1 91.2L35.6 86.9"/>
<path d="M35.6 86.9L36.1 82.8"/>
<path d="M36.1 82.8L36.6 79.0"/>
<path d="M36.6 79.0L37.1 75.4"/>
<path d="M37.1 75.4L37.6 72.1"/>
<path d="M37.6 72.1L38.1 69.1"/>
<path d="M38.1 69.1L38.6 66.4"/>
<path d="M38.6 66.4L39.2 64.0"/>
<path d="M39.2 64.0L39.7 62.0"/>
<path d="M39.7 62.0L40.2 60.4"/>
<path d="M40.2 60.4L40.7 59.3"/>
<path d="M40.7 59.3L41.2 65.4"/>
<path d="M41.2 65.4L41.7 73.5"/>
<path d="M41.7 73.5L42.2 67.0"/>
<path d="M42.2 67.0L42.7 62.9"/>
<path d="M42.7 62.9L43.2 60.6"/>
<path d="M43.2 60.6L43.7 66.7"/>
<path d="M43.7 66.7L44.2 73.7"/>
<path d="M44.2 73.7L44.7 77.6"/>
<path d="M44.7 77.6L45.2 81.8"/>
<path d="M45.2 81.8L45.7 86.3"/>
<path d="M45.7 86.3L46.3 91.1"/>
<path d="M46.3 91.1L46.8 96.2"/>
<path d="M46.8 96.2L47.3 101.6"/>
<path d="M47.3 101.6L47.8 107.3"/>
<path d="M47.8 107.3L48.3 113.2"/>
<path d="M48.3 113.2L48.8 119.3"/>
<path d="M48.8 119.3L49.3 125.7"/>
<path d="M49.3 125.7L49.8 132.4"/>
<path d="M49.8 132.4L50.3 139.3"/>
<path d="M50.3 139.3L50.8 146.4"/>
<path d="M50.8 146.4L51.3 153.7"/>
<path d="M51.3 153.7L51.8 161.2"/>
<path d="M51.8 161.2L52.3 169.0"/>
<path d="M52.3 169.0L52.8 177.0"/>
<path d="M52.8 177.0L53.4 171.5"/>
<path d="M53.4 171.5L53.9 164.5"/>
<path d="M53.9 164.5L54.4 157.6"/>
<path d="M54.4 157.6L54.9 151.0"/>
<path d="M54.9 151.0L55.4 144.5"/>
<path d="M55.4 144.5L55.9 138.2"/>
<path d="M55.9 138.2L56.4 132.1"/>
<path d="M56.4 132.1L56.9 126.2"/>
<path d="M56.9 126.2L57.4 120.5"/>
<path d="M57.4 120.5L57.9 115.0"/>
<path d="M57.9 115.0L58.4 109.8"/>
<path d="M58.4 109.8L58.9 104.7"/>
<path d="M58.9 104.7L59.4 99.9"/>
<path d="M59.4 99.9L59.9 95.3"/>
<path d="M59.9 95.3L60.4 91.0"/>
<path d="M60.4 91.0L61.0 86.9"/>
<path d="M61.0 86.9L61.5 83.1"/>
<path d="M61.5 83.1L62.0 79.6"/>
<path d="M62.0 79.6L62.5 76.3"/>
<path d="M62.5 76.3L63.0 73.4"/>
<path d="M63.0 73.4L63.5 70.8"/>
<path d="M63.5 70.8L64.0 68.6"/>
<path d="M64.0 68.6L64.5 66.8"/>
<path d="M64.5 66.8L65.0 65.4"/>
<path d="M65.0 65.4L65.5 64.8"/>
<path d="M65.5 64.8L66.0 65.6"/>
<path d="M66.0 65.6L66.5 67.0"/>
<path d="M66.5 67.0L67.0 69.0"/>
<path d="M67.0 69.0L67.5 71.5"/>
<path d="M67.5 71.5L68.1 74.3"/>
<path d="M68.1 74.3L68.6 77.5"/>
<path d="M68.6 77.5L69.1 81.0"/>
<path d="M69.1 81.0L69.6 84.9"/>
<path d="M69.6 84.9L70.1 89.0"/>
<path d="M70.1 89.0L70.6 93.5"/>
<path d="M70.6 93.5L71.1 98.2"/>
<path d="M71.1 98.2L71.6 103.1"/>
<path d="M71.6 103.1L72.1 108.4"/>
<path d="M72.1 108.4L72.6 113.8"/>
<path d="M72.6 113.8L73.1 119.5"/>
<path d="M73.1 119.5L73.6 125.5"/>
<path d="M73.6 125.5L74.1 131.6"/>
<path d="M74.1 131.6L74.6 138.0"/>
<path d="M74.6 138.0L75.2 144.6"/>
<path d="M75.2 144.6L75.7 151.4"/>
<path d="M75.7 151.4L76.2 158.5"/>
<path d="M76.2 158.5L76.7 165.7"/>
<path d="M76.7 165.7L77.2 173.1"/>
<path d="M77.2 173.1L77.7 169.3"/>
<path d="M77.7 169.3L78.2 162.1"/>
<path d="M78.2 162.1L78.7 155.2"/>
<path d="M78.7 155.2L79.2 148.4"/>
<path d="M79.2 148.4L79.7 141.9"/>
<path d="M79.7 141.9L80.2 135.6"/>
<path d="M80.2 135.6L80.7 129.5"/>
<path d="M80.7 129.5L81.2 123.6"/>
<path d="M81.2 123.6L81.7 118.0"/>
<path d="M81.7 118.0L82.2 112.7"/>
<path d="M82.2 112.7L82.8 107.5"/>
<path d="M82.8 107.5L83.3 102.7"/>
<path d="M83.3 102.7L83.8 98.1"/>
<path d="M83.8 98.1L84.3 93.8"/>
<path d="M84.3 93.8L84.8 89.9"/>
<path d="M84.8 89.9L85.3 86.2"/>
<path d="M85.3 86.2L85.8 82.8"/>
<path d="M85.8 82.8L86.3 79.9"/>
<path d="M86.3 79.9L86.8 77.3"/>
<path d="M86.8 77.3L87.3 75.1"/>
<path d="M87.3 75.1L87.8 73.4"/>
<path d="M87.8 73.4L88.3 72.4"/>
<path d="M88.3 72.4L88.8 72.7"/>
<path d="M88.8 72.7L89.3 73.9"/>
<path d="M89.3 73.9L89.9 75.7"/>
<path d="M89.9 75.7L90.4 77.9"/>
<path d="M90.4 77.9L90.9 80.6"/>
<path d="M90.9 80.6L91.4 83.6"/>
<path d="M91.4 83.6L91.9 87.0"/>
<path d="M91.9 87.0L92.4 90.7"/>
<path d="M92.4 90.7L92.9 94.6"/>
<path d="M92.9 94.6L93.4 98.9"/>
<path d="M93.4 98.9L93.9 103.4"/>
<path d="M93.9 103.4L94.4 108.2"/>
<path d="M94.4 108.2L94.9 113.3"/>
<path d="M94.9 113.3L95.4 118.6"/>
<path d="M95.4 118.6L95.9 124.1"/>
<path d="M95.9 124.1L96.4 129.9"/>
<path d="M96.4 129.9L97.0 135.9"/>
<path d="M97.0 135.9L97.5 142.1"/>
<path d="M97.5 142.1L98.0 148.5"/>
<path d="M98.0 148.5L98.5 155.1"/>
<path d="M98.5 155.1L99.0 162.0"/>
<path d="M99.0 162.0L99.5 165.5"/>
<path d="M99.5 165.5L100.0 155.4"/>
<path d="M100.0 155.4L100.5 153.4"/>
<path d="M100.5 153.4L101.0 144.7"/>
<path d="M101.0 144.7L101.5 139.6"/>
<path d="M101.5 139.6L102.0 138.2"/>
<path d="M102.0 138.2L102.5 130.6"/>
<path d="M102.5 130.6L103.0 130.0"/>
<path d="M103.0 130.0L103.5 119.4"/>
<path d="M103.5 119.4L104.0 100.4"/>
<path d="M104.0 100.4L104.6 88.6"/>
<path d="M104.6 88.6L105.1 102.2"/>
<path d="M105.1 102.2L105.6 122.6"/>
<path d="M105.6 122.6L106.1 115.0"/>
<path d="M106.1 115.0L106.6 119.3"/>
<path d="M106.6 119.3L107.1 113.4"/>
<path d="M107.1 113.4L107.6 117.0"/>
<path d="M107.6 117.0L108.1 106.7"/>
<path d="M108.1 106.7L108.6 96.1"/>
<path d="M108.6 96.1L109.1 107.7"/>
<path d="M109.1 107.7L109.6 133.1"/>
<path d="M109.6 133.1L110.1 126.1"/>
<path d="M110.1 126.1L110.6 127.4"/>
<path d="M110.6 127.4L111.1 125.0"/>
<path d="M111.1 125.0L111.7 133.4"/>
<path d="M111.7 133.4L112.2 139.9"/>
<path d="M112.2 139.9L112.7 152.6"/>
<path d="M112.7 152.6L113.2 145.8"/>
<path d="M113.2 145.8L113.7 150.0"/>
<path d="M113.7 150.0L114.2 152.5"/>
<path d="M114.2 152.5L114.7 160.4"/>
<path d="M114.7 160.4L115.2 168.4"/>
<path d="M115.2 168.4L115.7 165.6"/>
<path d="M115.7 165.6L116.2 166.5"/>
<path d="M116.2 166.5L116.7 160.7"/>
<path d="M116.7 160.7L117.2 168.1"/>
<path d="M117.2 168.1L117.7 155.5"/>
<path d="M117.7 155.5L118.2 165.1"/>
<path d="M118.2 165.1L118.8 140.8"/>
<path d="M118.8 140.8L119.3 118.0"/>
<path d="M119.3 118.0L119.8 130.4"/>
<path d="M119.8 130.4L120.3 138.4"/>
<path d="M120.3 138.4L120.8 159.0"/>
<path d="M120.8 159.0L121.3 134.1"/>
<path d="M121.3 134.1L121.8 133.1"/>
<path d="M121.8 133.1L122.3 121.9"/>
<path d="M122.3 121.9L122.8 101.0"/>
<path d="M122.8 101.0L123.3 117.9"/>
<path d="M123.3 117.9L123.8 135.7"/>
<path d="M123.8 135.7L124.3 156.5"/>
<path d="M124.3 156.5L124.8 146.0"/>
<path d="M124.8 146.0L125.3 130.0"/>
<path d="M125.3 130.0L125.9 150.8"/>
<path d="M125.9 150.8L126.4 159.6"/>
<path d="M126.4 159.6L126.9 168.8"/>
<path d="M126.9 168.8L127.4 172.7"/>
<path d="M127.4 172.7L127.9 169.7"/>
<path d="M127.9 169.7L128.4 161.6"/>
<path d="M128.4 161.6L128.9 153.8"/>
<path d="M128.9 153.8L129.4 146.3"/>
<path d="M129.4 146.3L129.9 139.1"/>
<path d="M129.9 139.1L130.4 132.3"/>
<path d="M130.4 132.3L130.9 125.8"/>
<path d="M130.9 125.8L131.4 119.7"/>
<path d="M131.4 119.7L131.9 113.9"/>
<path d="M131.9 113.9L132.4 108.6"/>
<path d="M132.4 108.6L132.9 103.6"/>
<path d="M132.9 103.6L133.5 99.1"/>
<path d="M133.5 99.1L134.0 95.0"/>
<path d="M134.0 95.0L134.5 91.5"/>
<path d="M134.5 91.5L135.0 88.4"/>
<path d="M135.0 88.4L135.5 86.0"/>
<path d="M135.5 86.0L136.0 84.4"/>
<path d="M136.0 84.4L136.5 84.1"/>
<path d="M136.5 84.1L137.0 90.3"/>
<path d="M137.0 90.3L137.5 92.0"/>
<path d="M137.5 92.0L138.0 93.7"/>
<path d="M138.0 93.7L138.5 91.6"/>
<path d="M138.5 91.6L139.0 93.1"/>
<path d="M139.0 93.1L139.5 96.5"/>
<path d="M139.5 96.5L140.0 100.1"/>
<path d="M140.0 100.1L140.6 106.1"/>
<path d="M140.6 106.1L141.1 101.8"/>
<path d="M141.1 101.8L141.6 104.2"/>
<path d="M141.6 104.2L142.1 108.0"/>
<path d="M142.1 108.0L142.6 114.4"/>
<path d="M142.6 114.4L143.1 147.0"/>
<path d="M143.1 147.0L143.6 125.5"/>
<path d="M143.6 125.5L144.1 136.9"/>
<path d="M144.1 136.9L144.6 118.0"/>
<path d="M144.6 118.0L145.1 145.4"/>
<path d="M145.1 145.4L145.6 144.5"/>
<path d="M145.6 144.5L146.1 135.4"/>
<path d="M146.1 135.4L146.6 148.4"/>
<path d="M146.6 148.4L147.1 142.7"/>
<path d="M147.1 142.7L147.7 147.1"/>
<path d="M147.7 147.1L148.2 151.6"/>
<path d="M148.2 151.6L148.7 156.3"/>
<path d="M148.7 156.3L149.2 161.1"/>
<path d="M149.2 161.1L149.7 166.0"/>
<path d="M149.7 166.0L150.2 171.1"/>
<path d="M150.2 171.1L150.7 165.5"/>
<path d="M150.7 165.5L151.2 159.8"/>
<path d="M151.2 159.8L151.7 154.3"/>
<path d="M151.7 154.3L152.2 149.0"/>
<path d="M152.2 149.0L152.7 144.0"/>
<path d="M152.7 144.0L153.2 139.2"/>
<path d="M153.2 139.2L153.7 134.6"/>
<path d="M153.7 134.6L154.2 130.3"/>
<path d="M154.2 130.3L154.8 126.2"/>
<path d="M154.8 126.2L155.3 122.3"/>
<path d="M155.3 122.3L155.8 118.8"/>
<path d="M155.8 118.8L156.3 115.6"/>
<path d="M156.3 115.6L156.8 112.6"/>
<path d="M156.8 112.6L157.3 107.6"/>
<path d="M157.3 107.6L157.8 103.4"/>
<path d="M157.8 103.4L158.3 105.0"/>
<path d="M158.3 105.0L158.8 108.1"/>
<path d="M158.8 108.1L159.3 114.0"/>
<path d="M159.3 114.0L159.8 108.1"/>
<path d="M159.8 108.1L160.3 105.9"/>
<path d="M160.3 105.9L160.8 103.0"/>
<path d="M160.8 103.0L161.3 111.2"/>
<path d="M161.3 111.2L161.8 114.5"/>
<path d="M161.8 114.5L162.4 118.3"/>
<path d="M162.4 118.3L162.9 121.3"/>
<path d="M162.9 121.3L163.4 130.4"/>
<path d="M163.4 130.4L163.9 150.0"/>
<path d="M163.9 150.0L164.4 137.6"/>
<path d="M164.4 137.6L164.9 146.8"/>
<path d="M164.9 146.8L165.4 152.0"/>
<path d="M165.4 152.0L165.9 168.0"/>
<path d="M165.9 168.0L166.4 160.2"/>
<path d="M166.4 160.2L166.9 150.0"/>
<path d="M166.9 150.0L167.4 169.4"/>
<path d="M167.4 169.4L167.9 164.9"/>
<path d="M167.9 164.9L168.4 162.0"/>
<path d="M168.4 162.0L168.9 155.2"/>
<path d="M168.9 155.2L169.5 148.4"/>
<path d="M169.5 148.4L170.0 143.0"/>
<path d="M170.0 143.0L170.5 137.8"/>
<path d="M170.5 137.8L171.0 132.7"/>
<path d="M171.0 132.7L171.5 127.8"/>
<path d="M171.5 127.8L172.0 123.1"/>
<path d="M172.0 123.1L172.5 118.5"/>
<path d="M172.5 118.5L173.0 114.1"/>
<path d="M173.0 114.1L173.5 109.8"/>
<path d="M173.5 109.8L174.0 105.8"/>
<path d="M174.0 105.8L174.5 101.9"/>
<path d="M174.5 101.9L175.0 98.2"/>
<path d="M175.0 98.2L175.5 94.7"/>
<path d="M175.5 94.7L176.0 91.4"/>
<path d="M176.0 91.4L176.6 88.3"/>
<path d="M176.6 88.3L177.1 85.5"/>
<path d="M177.1 85.5L177.6 82.8"/>
<path d="M177.6 82.8L178.1 80.5"/>
<path d="M178.1 80.5L178.6 78.4"/>
<path d="M178.6 78.4L179.1 76.6"/>
<path d="M179.1 76.6L179.6 75.1"/>
<path d="M179.6 75.1L180.1 74.0"/>
<path d="M180.1 74.0L180.6 73.5"/>
<path d="M180.6 73.5L181.1 74.1"/>
<path d="M181.1 74.1L181.6 75.4"/>
<path d="M181.6 75.4L182.1 77.2"/>
<path d="M182.1 77.2L182.6 79.3"/>
<path d="M182.6 79.3L183.1 81.8"/>
<path d="M183.1 81.8L183.6 84.6"/>
<path d="M183.6 84.6L184.2 87.7"/>
<path d="M184.2 87.7L184.7 91.1"/>
<path d="M184.7 91.1L185.2 94.7"/>
<path d="M185.2 94.7L185.7 98.6"/>
<path d="M185.7 98.6L186.2 102.8"/>
<path d="M186.2 102.8L186.7 107.1"/>
<path d="M186.7 107.1L187.2 111.7"/>
<path d="M187.2 111.7L187.7 116.5"/>
<path d="M187.7 116.5L188.2 121.6"/>
<path d="M188.2 121.6L188.7 126.8"/>
<path d="M188.7 126.8L189.2 132.2"/>
<path d="M189.2 132.2L189.7 137.8"/>
<path d="M189.7 137.8L190.2 143.6"/>
<path d="M190.2 143.6L190.7 149.6"/>
<path d="M190.7 149.6L191.3 155.8"/>
<path d="M191.3 155.8L191.8 162.1"/>
<path d="M191.8 162.1L192.3 161.9"/>
<path d="M192.3 161.9L192.8 155.9"/>
<path d="M192.8 155.9L193.3 150.0"/>
<path d="M193.3 150.0L193.8 144.4"/>
<path d="M193.8 144.4L194.3 138.8"/>
<path d="M194.3 138.8L194.8 133.5"/>
<path d="M194.8 133.5L195.3 128.3"/>
<path d="M195.3 128.3L195.8 123.3"/>
<path d="M195.8 123.3L196.3 118.5"/>
<path d="M196.3 118.5L196.8 113.9"/>
<path d="M196.8 113.9L197.3 109.5"/>
<path d="M197.3 109.5L197.8 105.3"/>
<path d="M197.8 105.3L198.4 101.3"/>
<path d="M198.4 101.3L198.9 97.6"/>
<path d="M198.9 97.6L199.4 94.0"/>
<path d="M199.4 94.0L199.9 90.8"/>
<path d="M199.9 90.8L200.4 87.7"/>
<path d="M200.4 87.7L200.9 84.9"/>
<path d="M200.9 84.9L201.4 82.4"/>
<path d="M201.4 82.4L201.9 80.3"/>
<path d="M201.9 80.3L202.4 78.4"/>
<path d="M202.4 78.4L202.9 77.0"/>
<path d="M202.9 77.0L203.4 76.0"/>
<path d="M203.4 76.0L203.9 76.6"/>
<path d="M203.9 76.6L204.4 77.4"/>
<path d="M204.4 77.4L204.9 79.2"/>
<path d="M204.9 79.2L205.4 84.6"/>
<path d="M205.4 84.6L206.0 84.6"/>
<path d="M206.0 84.6L206.5 87.7"/>
<path d="M206.5 87.7L207.0 91.7"/>
<path d="M207.0 91.7L207.5 92.2"/>
<path d="M207.5 92.2L208.0 95.0"/>
<path d="M208.0 95.0L208.5 98.1"/>
<path d="M208.5 98.1L209.0 109.3"/>
<path d="M209.0 109.3L209.5 110.1"/>
<path d="M209.5 110.1L210.0 112.1"/>
<path d="M210.0 112.1L210.5 117.6"/>
<path d="M210.5 117.6L211.0 120.4"/>
<path d="M211.0 120.4L211.5 126.8"/>
<path d="M211.5 126.8L212.0 132.2"/>
<path d="M212.0 132.2L212.5 139.4"/>
<path d="M212.5 139.4L213.1 141.1"/>
<path d="M213.1 141.1L213.6 149.1"/>
<path d="M213.6 149.1L214.1 155.7"/>
<path d="M214.1 155.7L214.6 161.3"/>
<path d="M214.6 161.3L215.1 165.6"/>
<path d="M215.1 165.6L215.6 172.0"/>
<path d="M215.6 172.0L216.1 165.9"/>
<path d="M216.1 165.9L216.6 164.3"/>
<path d="M216.6 164.3L217.1 154.3"/>
<path d="M217.1 154.3L217.6 154.0"/>
<path d="M217.6 154.0L218.1 151.7"/>
<path d="M218.1 151.7L218.6 141.1"/>
<path d="M218.6 141.1L219.1 143.3"/>
<path d="M219.1 143.3L219.6 142.1"/>
<path d="M219.6 142.1L220.2 119.6"/>
<path d="M220.2 119.6L220.7 116.3"/>
<path d="M220.7 116.3L221.2 118.3"/>
<path d="M221.2 118.3L221.7 107.5"/>
<path d="M221.7 107.5L222.2 111.8"/>
<path d="M222.2 111.8L222.7 150.0"/>
<path d="M222.7 150.0L223.2 106.1"/>
<path d="M223.2 106.1L223.7 95.1"/>
<path d="M223.7 95.1L224.2 95.0"/>
<path d="M224.2 95.0L224.7 102.3"/>
<path d="M224.7 102.3L225.2 90.2"/>
<path d="M225.2 90.2L225.7 104.0"/>
<path d="M225.7 104.0L226.2 93.3"/>
<path d="M226.2 93.3L226.7 83.0"/>
<path d="M226.7 83.0L227.3 103.4"/>
<path d="M227.3 103.4L227.8 114.6"/>
<path d="M227.8 114.6L228.3 120.0"/>
<path d="M228.3 120.0L228.8 139.5"/>
<path d="M228.8 139.5L229.3 142.8"/>
<path d="M229.3 142.8L229.8 156.8"/>
<path d="M229.8 156.8L230.3 164.8"/>
<path d="M230.3 164.8L230.8 163.7"/>
<path d="M230.8 163.7L231.3 161.3"/>
<path d="M231.3 161.3L231.8 144.7"/>
<path d="M231.8 144.7L232.3 141.6"/>
<path d="M232.3 141.6L232.8 125.0"/>
<path d="M232.8 125.0L233.3 135.4"/>
<path d="M233.3 135.4L233.8 112.8"/>
<path d="M233.8 112.8L234.3 106.8"/>
<path d="M234.3 106.8L234.9 100.0"/>
<path d="M234.9 100.0L235.4 104.0"/>
<path d="M235.4 104.0L235.9 112.9"/>
<path d="M235.9 112.9L236.4 87.8"/>
<path d="M236.4 87.8L236.9 80.0"/>
<path d="M236.9 80.0L237.4 83.8"/>
<path d="M237.4 83.8L237.9 86.0"/>
<path d="M237.9 86.0L238.4 88.4"/>
<path d="M238.4 88.4L238.9 92.7"/>
<path d="M238.9 92.7L239.4 115.0"/>
<path d="M239.4 115.0L239.9 108.8"/>
<path d="M239.9 108.8L240.4 91.2"/>
<path d="M240.4 91.2L240.9 107.6"/>
<path d="M240.9 107.6L241.4 120.0"/>
<path d="M241.4 120.0L242.0 129.4"/>
<path d="M242.0 129.4L242.5 136.6"/>
<path d="M242.5 136.6L243.0 146.5"/>
<path d="M243.0 146.5L243.5 162.4"/>
<path d="M243.5 162.4L244.0 167.0"/>
<path d="M244.0 167.0L244.5 160.5"/>
<path d="M244.5 160.5L245.0 154.6"/>
<path d="M245.0 154.6L245.5 148.8"/>
<path d="M245.5 148.8L246.0 143.3"/>
<path d="M246.0 143.3L246.5 137.9"/>
<path d="M246.5 137.9L247.0 132.8"/>
<path d="M247.0 132.8L247.5 127.8"/>
<path d="M247.5 127.8L248.0 123.1"/>
<path d="M248.0 123.1L248.5 118.5"/>
<path d="M248.5 118.5L249.1 114.2"/>
<path d="M249.1 114.2L249.6 110.1"/>
<path d="M249.6 110.1L250.1 106.3"/>
<path d="M250.1 106.3L250.6 102.7"/>
<path d="M250.6 102.7L251.1 99.4"/>
<path d="M251.1 99.4L251.6 96.3"/>
<path d="M251.6 96.3L252.1 93.6"/>
<path d="M252.1 93.6L252.6 91.1"/>
<path d="M252.6 91.1L253.1 89.0"/>
<path d="M253.1 89.0L253.6 87.3"/>
<path d="M253.6 87.3L254.1 86.1"/>
<path d="M254.1 86.1L254.6 85.5"/>
<path d="M254.6 85.5L255.1 86.1"/>
<path d="M255.1 86.1L255.6 87.3"/>
<path d="M255.6 87.3L256.1 88.8"/>
<path d="M256.1 88.8L256.7 90.7"/>
<path d="M256.7 90.7L257.2 92.9"/>
<path d="M257.2 92.9L257.7 95.4"/>
<path d="M257.7 95.4L258.2 98.2"/>
<path d="M258.2 98.2L258.7 101.2"/>
<path d="M258.7 101.2L259.2 104.4"/>
<path d="M259.2 104.4L259.7 107.8"/>
<path d="M259.7 107.8L260.2 111.5"/>
<path d="M260.2 111.5L260.7 115.3"/>
<path d="M260.7 115.3L261.2 119.4"/>
<path d="M261.2 119.4L261.7 123.6"/>
<path d="M261.7 123.6L262.2 128.1"/>
<path d="M262.2 128.1L262.7 132.7"/>
<path d="M262.7 132.7L263.2 137.5"/>
<path d="M263.2 137.5L263.8 142.4"/>
<path d="M263.8 142.4L264.3 147.6"/>
<path d="M264.3 147.6L264.8 152.9"/>
<path d="M264.8 152.9L265.3 158.3"/>
<path d="M265.3 158.3L265.8 162.4"/>
<path d="M265.8 162.4L266.3 158.6"/>
<path d="M266.3 158.6L266.8 154.8"/>
<path d="M266.8 154.8L267.3 151.0"/>
<path d="M267.3 151.0L267.8 147.2"/>
<path d="M267.8 147.2L268.3 143.4"/>
<path d="M268.3 143.4L268.8 139.6"/>
<path d="M268.8 139.6L269.3 103.0"/>
<path d="M269.3 103.0L269.8 100.9"/>
<path d="M269.8 100.9L270.3 98.9"/>
<path d="M270.3 98.9L270.9 97.1"/>
<path d="M270.9 97.1L271.4 95.5"/>
<path d="M271.4 95.5L271.9 94.2"/>
<path d="M271.9 94.2L272.4 93.0"/>
<path d="M272.4 93.0L272.9 92.2"/>
<path d="M272.9 92.2L273.4 91.8"/>
<path d="M273.4 91.8L273.9 92.3"/>
<path d="M273.9 92.3L274.4 93.2"/>
<path d="M274.4 93.2L274.9 94.5"/>
<path d="M274.9 94.5L275.4 96.2"/>
<path d="M275.4 96.2L275.9 98.0"/>
<path d="M275.9 98.0L276.4 100.2"/>
<path d="M276.4 100.2L276.9 102.5"/>
<path d="M276.9 102.5L277.4 105.1"/>
<path d="M277.4 105.1L278.0 107.8"/>
<path d="M278.0 107.8L278.5 110.8"/>
<path d="M278.5 110.8L279.0 113.9"/>
<path d="M279.0 113.9L279.5 117.2"/>
<path d="M279.5 117.2L280.0 120.7"/>
<path d="M280.0 120.7L280.5 124.3"/>
<path d="M280.5 124.3L281.0 128.1"/>
<path d="M281.0 128.1L281.5 132.1"/>
<path d="M281.5 132.1L282.0 136.2"/>
<path d="M282.0 136.2L282.5 140.5"/>
<path d="M282.5 140.5L283.0 144.9"/>
<path d="M283.0 144.9L283.5 149.4"/>
<path d="M283.5 149.4L284.0 154.1"/>
<path d="M284.0 154.1L284.5 158.9"/>
<path d="M284.5 158.9L285.0 163.9"/>
<path d="M285.0 163.9L285.6 165.6"/>
<path d="M285.6 165.6L286.1 159.8"/>
<path d="M286.1 159.8L286.6 154.2"/>
<path d="M286.6 154.2L287.1 148.8"/>
<path d="M287.1 148.8L287.6 143.6"/>
<path d="M287.6 143.6L288.1 138.5"/>
<path d="M288.1 138.5L288.6 133.7"/>
<path d="M288.6 133.7L289.1 129.1"/>
<path d="M289.1 129.1L289.6 124.7"/>
<path d="M289.6 124.7L290.1 120.5"/>
<path d="M290.1 120.5L290.6 116.5"/>
<path d="M290.6 116.5L291.1 112.8"/>
<path d="M291.1 112.8L291.6 109.3"/>
<path d="M291.6 109.3L292.1 106.1"/>
<path d="M292.1 106.1L292.7 103.1"/>
<path d="M292.7 103.1L293.2 100.4"/>
<path d="M293.2 100.4L293.7 98.1"/>
<path d="M293.7 98.1L294.2 96.1"/>
<path d="M294.2 96.1L294.7 94.5"/>
<path d="M294.7 94.5L295.2 93.7"/>
<path d="M295.2 93.7L295.7 94.6"/>
<path d="M295.7 94.6L296.2 96.2"/>
<path d="M296.2 96.2L296.7 99.8"/>
<path d="M296.7 99.8L297.2 96.3"/>
<path d="M297.2 96.3L297.7 95.0"/>
<path d="M297.7 95.0L298.2 99.8"/>
<path d="M298.2 99.8L298.7 109.5"/>
<path d="M298.7 109.5L299.2 114.4"/>
<path d="M299.2 114.4L299.8 117.7"/>
<path d="M299.8 117.7L300.3 146.0"/>
<path d="M300.3 146.0L300.8 123.3"/>
<path d="M300.8 123.3L301.3 122.4"/>
<path d="M301.3 122.4L301.8 129.8"/>
<path d="M301.8 129.8L302.3 127.3"/>
<path d="M302.3 127.3L302.8 123.0"/>
<path d="M302.8 123.0L303.3 136.0"/>
<path d="M303.3 136.0L303.8 142.5"/>
<path d="M303.8 142.5L304.3 147.2"/>
<path d="M304.3 147.2L304.8 154.3"/>
<path d="M304.8 154.3L305.3 157.7"/>
<path d="M305.3 157.7L305.8 163.2"/>
<path d="M305.8 163.2L306.3 168.8"/>
<path d="M306.3 168.8L306.9 166.2"/>
<path d="M306.9 166.2L307.4 160.4"/>
<path d="M307.4 160.4L307.9 154.7"/>
<path d="M307.9 154.7L308.4 149.2"/>
<path d="M308.4 149.2L308.9 143.8"/>
<path d="M308.9 143.8L309.4 138.7"/>
<path d="M309.4 138.7L309.9 133.8"/>
<path d="M309.9 133.8L310.4 129.0"/>
<path d="M310.4 129.0L310.9 124.5"/>
<path d="M310.9 124.5L311.4 120.2"/>
<path d="M311.4 120.2L311.9 116.1"/>
<path d="M311.9 116.1L312.4 112.2"/>
<path d="M312.4 112.2L312.9 108.6"/>
<path d="M312.9 108.6L313.4 105.2"/>
<path d="M313.4 105.2L313.9 102.1"/>
<path d="M313.9 102.1L314.5 99.3"/>
<path d="M314.5 99.3L315.0 96.8"/>
<path d="M315.0 96.8L315.5 94.5"/>
<path d="M315.5 94.5L316.0 92.7"/>
<path d="M316.0 92.7L316.5 91.3"/>
<path d="M316.5 91.3L317.0 90.3"/>
<path d="M317.0 90.3L317.5 90.4"/>
<path d="M317.5 90.4L318.0 93.2"/>
<path d="M318.0 93.2L318.5 92.4"/>
<path d="M318.5 92.4L319.0 97.8"/>
<path d="M319.0 97.8L319.5 96.5"/>
<path d="M319.5 96.5L320.0 103.4"/>
<path d="M320.0 103.4L320.5 96.0"/>
<path d="M320.5 96.0L321.0 103.0"/>
<path d="M321.0 103.0L321.6 107.9"/>
<path d="M321.6 107.9L322.1 114.2"/>
<path d="M322.1 114.2L322.6 104.0"/>
<path d="M322.6 104.0L323.1 121.2"/>
<path d="M323.1 121.2L323.6 123.4"/>
<path d="M323.6 123.4L324.1 125.1"/>
<path d="M324.1 125.1L324.6 129.2"/>
<path d="M324.6 129.2L325.1 136.3"/>
<path d="M325.1 136.3L325.6 139.2"/>
<path d="M325.6 139.2L326.1 143.0"/>
<path d="M326.1 143.0L326.6 146.8"/>
<path d="M326.6 146.8L327.1 156.0"/>
<path d="M327.1 156.0L327.6 158.0"/>
<path d="M327.6 158.0L328.1 164.5"/>
<path d="M328.1 164.5L328.7 167.4"/>
<path d="M328.7 167.4L329.2 162.3"/>
<path d="M329.2 162.3L329.7 157.3"/>
<path d="M329.7 157.3L330.2 152.5"/>
<path d="M330.2 152.5L330.7 147.8"/>
<path d="M330.7 147.8L331.2 143.3"/>
<path d="M331.2 143.3L331.7 138.9"/>
<path d="M331.7 138.9L332.2 134.6"/>
<path d="M332.2 134.6L332.7 128.6"/>
<path d="M332.7 128.6L333.2 118.0"/>
<path d="M333.2 118.0L333.7 122.1"/>
<path d="M333.7 122.1L334.2 117.8"/>
<path d="M334.2 117.8L334.7 110.0"/>
<path d="M334.7 110.0L335.2 114.6"/>
<path d="M335.2 114.6L335.7 107.5"/>
<path d="M335.7 107.5L336.3 102.0"/>
<path d="M336.3 102.0L336.8 109.6"/>
<path d="M336.8 109.6L337.3 103.0"/>
<path d="M337.3 103.0L337.8 111.8"/>
<path d="M337.8 111.8L338.3 104.0"/>
<path d="M338.3 104.0L338.8 96.1"/>
<path d="M338.8 96.1L339.3 96.0"/>
<path d="M339.3 96.0L339.8 99.0"/>
<path d="M339.8 99.0L340.3 92.9"/>
<path d="M340.3 92.9L340.8 103.4"/>
<path d="M340.8 103.4L341.3 105.5"/>
<path d="M341.3 105.5L341.8 102.1"/>
<path d="M341.8 102.1L342.3 137.0"/>
<path d="M342.3 137.0L342.8 103.2"/>
<path d="M342.8 103.2L343.4 112.0"/>
<path d="M343.4 112.0L343.9 114.9"/>
<path d="M343.9 114.9L344.4 138.0"/>
<path d="M344.4 138.0L344.9 118.6"/>
<path d="M344.9 118.6L345.4 122.7"/>
<path d="M345.4 122.7L345.9 127.5"/>
<path d="M345.9 127.5L346.4 139.4"/>
<path d="M346.4 139.4L346.9 141.5"/>
<path d="M346.9 141.5L347.4 148.4"/>
<path d="M347.4 148.4L347.9 152.1"/>
<path d="M347.9 152.1L348.4 161.3"/>
<path d="M348.4 161.3L348.9 168.2"/>
<path d="M348.9 168.2L349.4 169.5"/>
<path d="M349.4 169.5L349.9 164.1"/>
<path d="M349.9 164.1L350.5 159.0"/>
<path d="M350.5 159.0L351.0 153.9"/>
<path d="M351.0 153.9L351.5 149.1"/>
<path d="M351.5 149.1L352.0 144.5"/>
<path d="M352.0 144.5L352.5 140.0"/>
<path d="M352.5 140.0L353.0 135.7"/>
<path d="M353.0 135.7L353.5 131.6"/>
<path d="M353.5 131.6L354.0 127.7"/>
<path d="M354.0 127.7L354.5 124.1"/>
<path d="M354.5 124.1L355.0 120.6"/>
<path d="M355.0 120.6L355.5 117.4"/>
<path d="M355.5 117.4L356.0 114.4"/>
<path d="M356.0 114.4L356.5 111.6"/>
<path d="M356.5 111.6L357.0 109.2"/>
<path d="M357.0 109.2L357.6 107.0"/>
<path d="M357.6 107.0L358.1 108.9"/>
<path d="M358.1 108.9L358.6 107.1"/>
<path d="M358.6 107.1L359.1 102.1"/>
<path d="M359.1 102.1L359.6 102.8"/>
<path d="M359.6 102.8L360.1 107.4"/>
<path d="M360.1 107.4L360.6 108.2"/>
<path d="M360.6 108.2L361.1 106.9"/>
<path d="M361.1 106.9L361.6 104.0"/>
<path d="M361.6 104.0L362.1 117.1"/>
<path d="M362.1 117.1L362.6 118.9"/>
<path d="M362.6 118.9L363.1 124.3"/>
<path d="M363.1 124.3L363.6 140.0"/>
<path d="M363.6 140.0L364.1 130.0"/>
<path d="M364.1 130.0L364.6 120.0"/>
<path d="M364.6 120.0L365.2 144.6"/>
<path d="M365.2 144.6L365.7 158.0"/>
<path d="M365.7 158.0L366.2 151.9"/>
<path d="M366.2 151.9L366.7 157.1"/>
<path d="M366.7 157.1L367.2 163.9"/>
<path d="M367.2 163.9L367.7 167.0"/>
<path d="M367.7 167.0L368.2 163.9"/>
<path d="M368.2 163.9L368.7 159.4"/>
<path d="M368.7 159.4L369.2 155.0"/>
<path d="M369.2 155.0L369.7 150.7"/>
<path d="M369.7 150.7L370.2 146.6"/>
<path d="M370.2 146.6L370.7 142.6"/>
<path d="M370.7 142.6L371.2 138.7"/>
<path d="M371.2 138.7L371.7 135.0"/>
<path d="M371.7 135.0L372.3 131.5"/>
<path d="M372.3 131.5L372.8 128.1"/>
<path d="M372.8 128.1L373.3 124.8"/>
<path d="M373.3 124.8L373.8 121.8"/>
<path d="M373.8 121.8L374.3 118.8"/>
<path d="M374.3 118.8L374.8 116.1"/>
<path d="M374.8 116.1L375.3 113.6"/>
<path d="M375.3 113.6L375.8 111.2"/>
<path d="M375.8 111.2L376.3 109.0"/>
<path d="M376.3 109.0L376.8 107.1"/>
<path d="M376.8 107.1L377.3 105.4"/>
<path d="M377.3 105.4L377.8 103.9"/>
<path d="M377.8 103.9L378.3 102.8"/>
<path d="M378.3 102.8L378.8 102.0"/>
<path d="M378.8 102.0L379.4 101.8"/>
<path d="M379.4 101.8L379.9 102.6"/>
<path d="M379.9 102.6L380.4 104.0"/>
<path d="M380.4 104.0L380.9 105.9"/>
<path d="M380.9 105.9L381.4 108.1"/>
<path d="M381.4 108.1L381.9 110.6"/>
<path d="M381.9 110.6L382.4 113.5"/>
<path d="M382.4 113.5L382.9 116.6"/>
<path d="M382.9 116.6L383.4 120.0"/>
<path d="M383.4 120.0L383.9 123.7"/>
<path d="M383.9 123.7L384.4 127.6"/>
<path d="M384.4 127.6L384.9 131.7"/>
<path d="M384.9 131.7L385.4 136.1"/>
<path d="M385.4 136.1L385.9 140.7"/>
<path d="M385.9 140.7L386.4 145.5"/>
<path d="M386.4 145.5L387.0 150.5"/>
<path d="M387.0 150.5L387.5 155.7"/>
<path d="M387.5 155.7L388.0 161.1"/>
<path d="M388.0 161.1L388.5 166.6"/>
<path d="M388.5 166.6L389.0 160.8"/>
<path d="M389.0 160.8L389.5 156.3"/>
<path d="M389.5 156.3L390.0 149.7"/>
<path d="M390.0 149.7L390.5 144.8"/>
<path d="M390.5 144.8L391.0 125.0"/>
<path d="M391.0 125.0L391.5 131.1"/>
<path d="M391.5 131.1L392.0 134.1"/>
<path d="M392.0 134.1L392.5 124.2"/>
<path d="M392.5 124.2L393.0 110.0"/>
<path d="M393.0 110.0L393.5 117.7"/>
<path d="M393.5 117.7L394.1 119.9"/>
<path d="M394.1 119.9L394.6 117.1"/>
<path d="M394.6 117.1L395.1 111.8"/>
<path d="M395.1 111.8L395.6 112.8"/>
<path d="M395.6 112.8L396.1 105.0"/>
<path d="M396.1 105.0L396.6 108.7"/>
<path d="M396.6 108.7L397.1 115.0"/>
<path d="M397.1 115.0L397.6 116.5"/>
<path d="M397.6 116.5L398.1 147.0"/>
<path d="M398.1 147.0L398.6 118.2"/>
<path d="M398.6 118.2L399.1 129.6"/>
<path d="M399.1 129.6L399.6 125.0"/>
<path d="M399.6 125.0L400.1 137.4"/>
<path d="M400.1 137.4L400.6 133.0"/>
<path d="M400.6 133.0L401.2 138.4"/>
<path d="M401.2 138.4L401.7 143.6"/>
<path d="M401.7 143.6L402.2 138.2"/>
<path d="M402.2 138.2L402.7 148.2"/>
<path d="M402.7 148.2L403.2 145.8"/>
<path d="M403.2 145.8L403.7 158.8"/>
<path d="M403.7 158.8L404.2 163.2"/>
<path d="M404.2 163.2L404.7 160.4"/>
<path d="M404.7 160.4L405.2 164.3"/>
<path d="M405.2 164.3L405.7 163.2"/>
<path d="M405.7 163.2L406.2 155.9"/>
<path d="M406.2 155.9L406.7 140.0"/>
<path d="M406.7 140.0L407.2 150.4"/>
<path d="M407.2 150.4L407.7 148.3"/>
<path d="M407.7 148.3L408.2 159.0"/>
<path d="M408.2 159.0L408.8 147.0"/>
<path d="M408.8 147.0L409.3 154.1"/>
<path d="M409.3 154.1L409.8 153.5"/>
<path d="M409.8 153.5L410.3 136.0"/>
<path d="M410.3 136.0L410.8 128.0"/>
<path d="M410.8 128.0L411.3 124.9"/>
<path d="M411.3 124.9L411.8 125.4"/>
<path d="M411.8 125.4L412.3 142.5"/>
<path d="M412.3 142.5L412.8 129.3"/>
<path d="M412.8 129.3L413.3 152.0"/>
<path d="M413.3 152.0L413.8 128.8"/>
<path d="M413.8 128.8L414.3 130.0"/>
<path d="M414.3 130.0L414.8 126.5"/>
<path d="M414.8 126.5L415.3 108.1"/>
<path d="M415.3 108.1L415.9 112.3"/>
<path d="M415.9 112.3L416.4 96.9"/>
<path d="M416.4 96.9L416.9 101.2"/>
<path d="M416.9 101.2L417.4 102.5"/>
<path d="M417.4 102.5L417.9 104.1"/>
<path d="M417.9 104.1L418.4 104.0"/>
<path d="M418.4 104.0L418.9 112.1"/>
<path d="M418.9 112.1L419.4 109.6"/>
<path d="M419.4 109.6L419.9 110.3"/>
<path d="M419.9 110.3L420.4 111.0"/>
<path d="M420.4 111.0L420.9 113.8"/>
<path d="M420.9 113.8L421.4 116.9"/>
<path d="M421.4 116.9L421.9 158.0"/>
<path d="M421.9 158.0L422.4 122.7"/>
<path d="M422.4 122.7L423.0 125.9"/>
<path d="M423.0 125.9L423.5 129.3"/>
<path d="M423.5 129.3L424.0 132.8"/>
<path d="M424.0 132.8L424.5 136.4"/>
<path d="M424.5 136.4L425.0 140.2"/>
<path d="M425.0 140.2L425.5 144.2"/>
<path d="M425.5 144.2L426.0 148.3"/>
<path d="M426.0 148.3L426.5 152.5"/>
<path d="M426.5 152.5L427.0 156.9"/>
<path d="M427.0 156.9L427.5 161.4"/>
<path d="M427.5 161.4L428.0 166.1"/>
<path d="M428.0 166.1L428.5 170.9"/>
<path d="M428.5 170.9L429.0 175.8"/>
<path d="M429.0 175.8L429.5 180.8"/>
<path d="M429.5 180.8L430.1 179.0"/>
<path d="M430.1 179.0L430.6 173.3"/>
<path d="M430.6 173.3L431.1 168.6"/>
<path d="M431.1 168.6L431.6 163.0"/>
<path d="M431.6 163.0L432.1 156.8"/>
<path d="M432.1 156.8L432.6 155.1"/>
<path d="M432.6 155.1L433.1 149.6"/>
<path d="M433.1 149.6L433.6 143.8"/>
<path d="M433.6 143.8L434.1 140.6"/>
<path d="M434.1 140.6L434.6 138.5"/>
<path d="M434.6 138.5L435.1 133.1"/>
<path d="M435.1 133.1L435.6 128.2"/>
<path d="M435.6 128.2L436.1 124.7"/>
<path d="M436.1 124.7L436.6 122.7"/>
<path d="M436.6 122.7L437.1 119.3"/>
<path d="M437.1 119.3L437.7 118.8"/>
<path d="M437.7 118.8L438.2 114.9"/>
<path d="M438.2 114.9L438.7 114.1"/>
<path d="M438.7 114.1L439.2 113.3"/>
<path d="M439.2 113.3L439.7 115.0"/>
<path d="M439.7 115.0L440.2 113.5"/>
<path d="M440.2 113.5L440.7 118.7"/>
<path d="M440.7 118.7L441.2 119.8"/>
<path d="M441.2 119.8L441.7 122.1"/>
<path d="M441.7 122.1L442.2 127.5"/>
<path d="M442.2 127.5L442.7 126.3"/>
<path d="M442.7 126.3L443.2 122.3"/>
<path d="M443.2 122.3L443.7 132.8"/>
<path d="M443.7 132.8L444.2 143.5"/>
<path d="M444.2 143.5L444.8 151.0"/>
<path d="M444.8 151.0L445.3 154.4"/>
<path d="M445.3 154.4L445.8 160.7"/>
<path d="M445.8 160.7L446.3 166.8"/>
<path d="M446.3 166.8L446.8 173.6"/>
<path d="M446.8 173.6L447.3 181.7"/>
<path d="M447.3 181.7L447.8 188.3"/>
<path d="M447.8 188.3L448.3 195.7"/>
<path d="M448.3 195.7L448.8 197.0"/>
<path d="M448.8 197.0L449.3 190.5"/>
<path d="M449.3 190.5L449.8 184.1"/>
<path d="M449.8 184.1L450.3 178.0"/>
<path d="M450.3 178.0L450.8 172.0"/>
<path d="M450.8 172.0L451.3 166.3"/>
<path d="M451.3 166.3L451.9 160.7"/>
<path d="M451.9 160.7L452.4 155.4"/>
<path d="M452.4 155.4L452.9 150.4"/>
<path d="M452.9 150.4L453.4 145.5"/>
<path d="M453.4 145.5L453.9 140.9"/>
<path d="M453.9 140.9L454.4 136.6"/>
<path d="M454.4 136.6L454.9 132.5"/>
<path d="M454.9 132.5L455.4 128.7"/>
<path d="M455.4 128.7L455.9 125.1"/>
<path d="M455.9 125.1L456.4 121.8"/>
<path d="M456.4 121.8L456.9 119.4"/>
<path d="M456.9 119.4L457.4 116.7"/>
<path d="M457.4 116.7L457.9 115.4"/>
<path d="M457.9 115.4L458.4 114.8"/>
<path d="M458.4 114.8L458.9 112.2"/>
<path d="M458.9 112.2L459.5 113.5"/>
<path d="M459.5 113.5L460.0 113.7"/>
<path d="M460.0 113.7L460.5 115.5"/>
<path d="M460.5 115.5L461.0 122.0"/>
<path d="M461.0 122.0L461.5 116.0"/>
<path d="M461.5 116.0L462.0 122.6"/>
<path d="M462.0 122.6L462.5 131.7"/>
<path d="M462.5 131.7L463.0 134.7"/>
<path d="M463.0 134.7L463.5 145.9"/>
<path d="M463.5 145.9L464.0 143.1"/>
<path d="M464.0 143.1L464.5 150.9"/>
<path d="M464.5 150.9L465.0 157.0"/>
<path d="M465.0 157.0L465.5 161.3"/>
<path d="M465.5 161.3L466.0 165.8"/>
<path d="M466.0 165.8L466.6 172.3"/>
<path d="M466.6 172.3L467.1 179.2"/>
<path d="M467.1 179.2L467.6 186.5"/>
<path d="M467.6 186.5L468.1 186.2"/>
<path d="M468.1 186.2L468.6 179.5"/>
<path d="M468.6 179.5L469.1 173.0"/>
<path d="M469.1 173.0L469.6 166.9"/>
<path d="M469.6 166.9L470.1 165.6"/>
<path d="M470.1 165.6L470.6 155.1"/>
<path d="M470.6 155.1L471.1 150.5"/>
<path d="M471.1 150.5L471.6 152.0"/>
<path d="M471.6 152.0L472.1 144.1"/>
<path d="M472.1 144.1L472.6 144.9"/>
<path d="M472.6 144.9L473.1 140.0"/>
<path d="M473.1 140.0L473.7 127.7"/>
<path d="M473.7 127.7L474.2 131.8"/>
<path d="M474.2 131.8L474.7 123.3"/>
<path d="M474.7 123.3L475.2 116.3"/>
<path d="M475.2 116.3L475.7 128.0"/>
<path d="M475.7 128.0L476.2 115.5"/>
<path d="M476.2 115.5L476.7 123.0"/>
<path d="M476.7 123.0L477.2 120.2"/>
<path d="M477.2 120.2L477.7 110.3"/>
<path d="M477.7 110.3L478.2 113.9"/>
<path d="M478.2 113.9L478.7 120.0"/>
<path d="M478.7 120.0L479.2 118.0"/>
<path d="M479.2 118.0L479.7 131.4"/>
<path d="M479.7 131.4L480.2 133.0"/>
<path d="M480.2 133.0L480.8 132.0"/>
<path d="M480.8 132.0L481.3 137.0"/>
<path d="M481.3 137.0L481.8 144.2"/>
<path d="M481.8 144.2L482.3 148.4"/>
<path d="M482.3 148.4L482.8 159.5"/>
<path d="M482.8 159.5L483.3 162.2"/>
<path d="M483.3 162.2L483.8 169.6"/>
<path d="M483.8 169.6L484.3 177.3"/>
<path d="M484.3 177.3L484.8 185.4"/>
<path d="M484.8 185.4L485.3 187.4"/>
<path d="M485.3 187.4L485.8 175.1"/>
<path d="M485.8 175.1L486.3 162.8"/>
<path d="M486.3 162.8L486.8 154.6"/>
<path d="M486.8 154.6L487.3 158.8"/>
<path d="M487.3 158.8L487.8 140.0"/>
<path d="M487.8 140.0L488.4 131.5"/>
<path d="M488.4 131.5L488.9 113.0"/>
<path d="M488.9 113.0L489.4 125.5"/>
<path d="M489.4 125.5L489.9 119.1"/>
<path d="M489.9 119.1L490.4 117.2"/>
<path d="M490.4 117.2L490.9 130.0"/>
<path d="M490.9 130.0L491.4 122.5"/>
<path d="M491.4 122.5L491.9 140.2"/>
<path d="M491.9 140.2L492.4 118.0"/>
<path d="M492.4 118.0L492.9 144.0"/>
<path d="M492.9 144.0L493.4 135.5"/>
<path d="M493.4 135.5L493.9 131.8"/>
<path d="M493.9 131.8L494.4 150.0"/>
<path d="M494.4 150.0L494.9 139.9"/>
<path d="M494.9 139.9L495.5 146.3"/>
<path d="M495.5 146.3L496.0 140.9"/>
<path d="M496.0 140.9L496.5 132.9"/>
<path d="M496.5 132.9L497.0 114.0"/>
<path d="M497.0 114.0L497.5 138.4"/>
<path d="M497.5 138.4L498.0 159.4"/>
<path d="M498.0 159.4L498.5 160.0"/>
<path d="M498.5 160.0L499.0 168.1"/>
<path d="M499.0 168.1L499.5 168.7"/>
<path d="M499.5 168.7L500.0 163.4"/>
<path d="M500.0 163.4L500.5 155.9"/>
<path d="M500.5 155.9L501.0 163.3"/>
<path d="M501.0 163.3L501.5 146.2"/>
<path d="M501.5 146.2L502.0 142.0"/>
<path d="M502.0 142.0L502.6 136.0"/>
<path d="M502.6 136.0L503.1 140.2"/>
<path d="M503.1 140.2L503.6 130.8"/>
<path d="M503.6 130.8L504.1 123.0"/>
<path d="M504.1 123.0L504.6 130.9"/>
<path d="M504.6 130.9L505.1 117.1"/>
<path d="M505.1 117.1L505.6 110.0"/>
<path d="M505.6 110.0L506.1 117.3"/>
<path d="M506.1 117.3L506.6 115.1"/>
<path d="M506.6 115.1L507.1 110.2"/>
<path d="M507.1 110.2L507.6 106.5"/>
<path d="M507.6 106.5L508.1 107.9"/>
<path d="M508.1 107.9L508.6 102.8"/>
<path d="M508.6 102.8L509.1 117.7"/>
<path d="M509.1 117.7L509.6 143.8"/>
<path d="M509.6 143.8L510.2 120.0"/>
<path d="M510.2 120.0L510.7 144.1"/>
<path d="M510.7 144.1L511.2 154.6"/>
<path d="M511.2 154.6L511.7 169.9"/>
<path d="M511.7 169.9L512.2 183.5"/>
<path d="M512.2 183.5L512.7 186.8"/>
<path d="M512.7 186.8L513.2 181.2"/>
<path d="M513.2 181.2L513.7 175.9"/>
<path d="M513.7 175.9L514.2 170.7"/>
<path d="M514.2 170.7L514.7 165.7"/>
<path d="M514.7 165.7L515.2 160.9"/>
<path d="M515.2 160.9L515.7 156.3"/>
<path d="M515.7 156.3L516.2 151.8"/>
<path d="M516.2 151.8L516.7 147.6"/>
<path d="M516.7 147.6L517.3 143.6"/>
<path d="M517.3 143.6L517.8 139.8"/>
<path d="M517.8 139.8L518.3 136.2"/>
<path d="M518.3 136.2L518.8 132.8"/>
<path d="M518.8 132.8L519.3 129.7"/>
<path d="M519.3 129.7L519.8 126.9"/>
<path d="M519.8 126.9L520.3 124.3"/>
<path d="M520.3 124.3L520.8 122.0"/>
<path d="M520.8 122.0L521.3 120.1"/>
<path d="M521.3 120.1L521.8 118.5"/>
<path d="M521.8 118.5L522.3 117.3"/>
<path d="M522.3 117.3L522.8 116.8"/>
<path d="M522.8 116.8L523.3 118.2"/>
<path d="M523.3 118.2L523.8 120.7"/>
<path d="M523.8 120.7L524.4 124.2"/>
<path d="M524.4 124.2L524.9 128.4"/>
<path d="M524.9 128.4L525.4 133.2"/>
<path d="M525.4 133.2L525.9 138.7"/>
<path d="M525.9 138.7L526.4 144.8"/>
<path d="M526.4 144.8L526.9 151.4"/>
<path d="M526.9 151.4L527.4 158.5"/>
<path d="M527.4 158.5L527.9 166.1"/>
<path d="M527.9 166.1L528.4 174.2"/>
<path d="M528.4 174.2L528.9 182.7"/>
<path d="M528.9 182.7L529.4 191.7"/>
<path d="M529.4 191.7L529.9 198.6"/>
<path d="M529.9 198.6L530.4 198.6"/>
<path d="M530.4 198.6L530.9 198.6"/>
<path d="M530.9 198.6L531.5 198.6"/>
<path d="M531.5 198.6L532.0 198.6"/>
<path d="M532.0 198.6L532.5 198.6"/>
<path d="M532.5 198.6L533.0 192.8"/>
<path d="M533.0 192.8L533.5 158.6"/>
<path d="M533.5 158.6L534.0 157.9"/>
<path d="M534.0 157.9L534.5 157.1"/>
<path d="M534.5 157.1L535.0 156.3"/>
</g>
</g>
<path d="M28,9V238M535,9V238" stroke="#bdbdbd" stroke-width="1.3" fill="none"/>
<path d="M27.4,9.5H535.6M27.4,237.5H535.6" stroke="#bdbdbd" stroke-width="1.1" fill="none"/>
<rect x="285.5" y="13.4" width="245.5" height="21.1" fill="#fff" stroke="#bdbdbd" stroke-width="1"/>
<path d="M288.2,18.8H304.2" stroke="#ee8090" stroke-width="1.2"/>
<path d="M288.2,28.9H304.2" stroke="#8c8c8c" stroke-width="1.4"/>
<text transform="translate(306.00,22.20) scale(1.095,1)" text-anchor="start" font-family='"Liberation Sans", Arial, sans-serif' font-size="9.40" fill="#303030" stroke="#303030" stroke-width="0.20" font-style="italic">Current by linear regression model (training data)</text>
<text transform="translate(306.40,31.70) scale(1.095,1)" text-anchor="start" font-family='"Liberation Sans", Arial, sans-serif' font-size="9.40" fill="#303030" stroke="#303030" stroke-width="0.20" font-style="italic">Real Current (10 min average value)</text>
<text transform="translate(28.00,249.90) scale(1.090,1)" text-anchor="middle" font-family='"Liberation Sans", Arial, sans-serif' font-size="10.20" fill="#303030" stroke="#303030" stroke-width="0.20">0</text>
<text transform="translate(78.70,249.90) scale(1.090,1)" text-anchor="middle" font-family='"Liberation Sans", Arial, sans-serif' font-size="10.20" fill="#303030" stroke="#303030" stroke-width="0.20">100</text>
<text transform="translate(129.40,249.90) scale(1.090,1)" text-anchor="middle" font-family='"Liberation Sans", Arial, sans-serif' font-size="10.20" fill="#303030" stroke="#303030" stroke-width="0.20">200</text>
<text transform="translate(180.10,249.90) scale(1.090,1)" text-anchor="middle" font-family='"Liberation Sans", Arial, sans-serif' font-size="10.20" fill="#303030" stroke="#303030" stroke-width="0.20">300</text>
<text transform="translate(230.80,249.90) scale(1.090,1)" text-anchor="middle" font-family='"Liberation Sans", Arial, sans-serif' font-size="10.20" fill="#303030" stroke="#303030" stroke-width="0.20">400</text>
<text transform="translate(281.50,249.90) scale(1.090,1)" text-anchor="middle" font-family='"Liberation Sans", Arial, sans-serif' font-size="10.20" fill="#303030" stroke="#303030" stroke-width="0.20">500</text>
<text transform="translate(332.20,249.90) scale(1.090,1)" text-anchor="middle" font-family='"Liberation Sans", Arial, sans-serif' font-size="10.20" fill="#303030" stroke="#303030" stroke-width="0.20">600</text>
<text transform="translate(382.90,249.90) scale(1.090,1)" text-anchor="middle" font-family='"Liberation Sans", Arial, sans-serif' font-size="10.20" fill="#303030" stroke="#303030" stroke-width="0.20">700</text>
<text transform="translate(433.60,249.90) scale(1.090,1)" text-anchor="middle" font-family='"Liberation Sans", Arial, sans-serif' font-size="10.20" fill="#303030" stroke="#303030" stroke-width="0.20">800</text>
<text transform="translate(484.30,249.90) scale(1.090,1)" text-anchor="middle" font-family='"Liberation Sans", Arial, sans-serif' font-size="10.20" fill="#303030" stroke="#303030" stroke-width="0.20">900</text>
<text transform="translate(535.00,249.90) scale(1.090,1)" text-anchor="middle" font-family='"Liberation Sans", Arial, sans-serif' font-size="10.20" fill="#303030" stroke="#303030" stroke-width="0.20">1000</text>
<text transform="translate(24.20,240.60) scale(1.090,1)" text-anchor="end" font-family='"Liberation Sans", Arial, sans-serif' font-size="10.20" fill="#303030" stroke="#303030" stroke-width="0.20">0</text>
<text transform="translate(24.20,202.68) scale(1.090,1)" text-anchor="end" font-family='"Liberation Sans", Arial, sans-serif' font-size="10.20" fill="#303030" stroke="#303030" stroke-width="0.20">1</text>
<text transform="translate(24.20,164.77) scale(1.090,1)" text-anchor="end" font-family='"Liberation Sans", Arial, sans-serif' font-size="10.20" fill="#303030" stroke="#303030" stroke-width="0.20">2</text>
<text transform="translate(24.20,126.85) scale(1.090,1)" text-anchor="end" font-family='"Liberation Sans", Arial, sans-serif' font-size="10.20" fill="#303030" stroke="#303030" stroke-width="0.20">3</text>
<text transform="translate(24.20,88.93) scale(1.090,1)" text-anchor="end" font-family='"Liberation Sans", Arial, sans-serif' font-size="10.20" fill="#303030" stroke="#303030" stroke-width="0.20">4</text>
<text transform="translate(24.20,51.02) scale(1.090,1)" text-anchor="end" font-family='"Liberation Sans", Arial, sans-serif' font-size="10.20" fill="#303030" stroke="#303030" stroke-width="0.20">5</text>
<text transform="translate(24.20,13.10) scale(1.090,1)" text-anchor="end" font-family='"Liberation Sans", Arial, sans-serif' font-size="10.20" fill="#303030" stroke="#303030" stroke-width="0.20">6</text>
<text transform="translate(282.40,262.20) scale(1.200,1)" text-anchor="middle" font-family='"Liberation Sans", Arial, sans-serif' font-size="10.60" fill="#303030" stroke="#303030" stroke-width="0.20">Time [ interval : 10 min ]</text>
<text transform="translate(12.40,120.70) rotate(-90) scale(1.135,1)" text-anchor="middle" font-family='"Liberation Sans", Arial, sans-serif' font-size="10.60" fill="#303030" stroke="#303030" stroke-width="0.20">Current [ A ]</text>
<text transform="translate(275.90,287.40) scale(1.080,1)" text-anchor="middle" font-family='"Liberation Serif", "Times New Roman", serif' font-size="11.50" fill="#000" font-weight="bold">(d)</text>
</svg>
</body></html>
